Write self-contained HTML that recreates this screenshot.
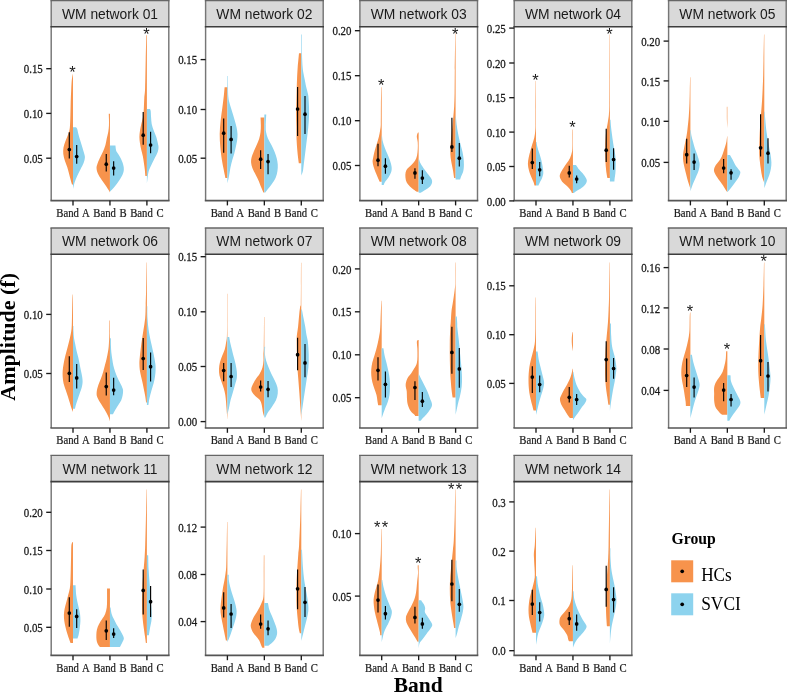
<!DOCTYPE html>
<html><head><meta charset="utf-8"><style>
html,body{margin:0;padding:0;background:#fff;width:787px;height:693px;overflow:hidden}
svg{display:block;will-change:transform;filter:blur(0.3px)}
.st{font-family:"Liberation Sans",sans-serif;font-size:13.85px;fill:#1a1a1a}
.tk{font-family:"Liberation Serif",serif;font-size:10.9px;fill:#1a1a1a;stroke:#1a1a1a;stroke-width:0.25px}
.xl{font-family:"Liberation Serif",serif;font-size:10.7px;word-spacing:1px;fill:#1a1a1a;stroke:#1a1a1a;stroke-width:0.2px}
.ttl{font-family:"Liberation Serif",serif;font-weight:bold;fill:#000}
.lg{font-family:"Liberation Serif",serif;fill:#000}
</style></head><body>
<svg width="787" height="693" viewBox="0 0 787 693">

<rect x="51.20" y="0.60" width="117.60" height="26.20" fill="#d9d9d9"/>
<path d="M73.00,184.50 L72.00,184.50 C71.78,183.75 71.20,181.85 70.70,180.00 C70.20,178.15 69.58,175.57 69.00,173.40 C68.42,171.23 67.90,169.17 67.20,167.00 C66.50,164.83 65.45,162.57 64.80,160.40 C64.15,158.23 63.52,156.15 63.30,154.00 C63.08,151.85 63.13,149.67 63.50,147.50 C63.87,145.33 64.73,143.17 65.50,141.00 C66.27,138.83 67.38,136.67 68.10,134.50 C68.82,132.33 69.42,131.25 69.80,128.00 C70.18,124.75 70.25,119.33 70.40,115.00 C70.55,110.67 70.57,106.17 70.70,102.00 C70.83,97.83 71.02,93.67 71.20,90.00 C71.38,86.33 71.50,82.75 71.80,80.00 C72.10,77.25 72.80,74.58 73.00,73.50 L73.00,73.50 Z" fill="#F7934C"/>
<path d="M73.00,189.00 L73.00,189.00 C73.27,187.92 73.90,184.67 74.60,182.50 C75.30,180.33 76.23,178.17 77.20,176.00 C78.17,173.83 79.33,171.67 80.40,169.50 C81.47,167.33 82.85,164.95 83.60,163.00 C84.35,161.05 84.78,159.30 84.90,157.80 C85.02,156.30 84.72,155.72 84.30,154.00 C83.88,152.28 83.05,149.67 82.40,147.50 C81.75,145.33 81.05,143.17 80.40,141.00 C79.75,138.83 79.03,136.50 78.50,134.50 C77.97,132.50 77.62,130.20 77.20,129.00 C76.78,127.80 76.20,127.58 76.00,127.30 L73.00,127.30 Z" fill="#8DD3EE"/>
<line x1="69.30" y1="132.20" x2="69.30" y2="158.50" stroke="#000" stroke-width="1.15"/>
<circle cx="69.30" cy="149.50" r="1.85" fill="#000"/>
<line x1="76.70" y1="145.00" x2="76.70" y2="163.70" stroke="#000" stroke-width="1.15"/>
<circle cx="76.70" cy="156.50" r="1.85" fill="#000"/>
<text x="72.50" y="78.40" text-anchor="middle" style="font-family:'Liberation Sans',sans-serif;font-size:16.5px;fill:#1a1a1a;letter-spacing:0px">*</text>
<path d="M109.95,192.40 L109.95,192.40 C109.35,191.42 107.72,188.57 106.35,186.50 C104.98,184.43 103.17,182.17 101.75,180.00 C100.33,177.83 98.72,175.45 97.85,173.50 C96.98,171.55 96.65,169.82 96.55,168.30 C96.45,166.78 96.70,166.12 97.25,164.40 C97.80,162.68 98.88,160.15 99.85,158.00 C100.82,155.85 102.12,153.67 103.05,151.50 C103.98,149.33 104.83,147.17 105.45,145.00 C106.07,142.83 106.28,140.67 106.75,138.50 C107.22,136.33 107.88,134.17 108.25,132.00 C108.62,129.83 108.83,127.67 108.95,125.50 C109.07,123.33 108.98,120.95 108.95,119.00 C108.92,117.05 108.78,114.67 108.75,113.80 L109.95,113.80 Z" fill="#F7934C"/>
<path d="M109.95,191.70 L109.95,191.70 C110.75,190.83 113.30,188.23 114.75,186.50 C116.20,184.77 117.35,183.25 118.65,181.30 C119.95,179.35 121.68,176.75 122.55,174.80 C123.42,172.85 123.75,171.33 123.85,169.60 C123.95,167.87 123.70,166.33 123.15,164.40 C122.60,162.47 121.52,159.93 120.55,158.00 C119.58,156.07 118.10,154.10 117.35,152.80 C116.60,151.50 116.37,151.40 116.05,150.20 C115.73,149.00 115.55,146.37 115.45,145.60 L109.95,145.60 Z" fill="#8DD3EE"/>
<line x1="106.25" y1="154.00" x2="106.25" y2="171.60" stroke="#000" stroke-width="1.15"/>
<circle cx="106.25" cy="164.20" r="1.85" fill="#000"/>
<line x1="113.65" y1="161.20" x2="113.65" y2="175.50" stroke="#000" stroke-width="1.15"/>
<circle cx="113.65" cy="168.10" r="1.85" fill="#000"/>
<path d="M146.90,176.00 L145.40,176.00 C145.30,174.90 145.05,171.57 144.80,169.40 C144.55,167.23 144.22,165.17 143.90,163.00 C143.58,160.83 143.33,158.57 142.90,156.40 C142.47,154.23 141.78,152.15 141.30,150.00 C140.82,147.85 140.32,145.67 140.00,143.50 C139.68,141.33 139.40,139.17 139.40,137.00 C139.40,134.83 139.68,132.67 140.00,130.50 C140.32,128.33 140.82,126.17 141.30,124.00 C141.78,121.83 142.50,119.67 142.90,117.50 C143.30,115.33 143.47,114.25 143.70,111.00 C143.93,107.75 144.07,101.83 144.30,98.00 C144.53,94.17 144.87,94.33 145.10,88.00 C145.33,81.67 145.50,68.80 145.70,60.00 C145.90,51.20 146.20,39.33 146.30,35.20 L146.90,35.20 Z" fill="#F7934C"/>
<path d="M146.90,183.70 L146.90,183.70 C147.17,181.75 147.80,175.03 148.50,172.00 C149.20,168.97 150.13,167.67 151.10,165.50 C152.07,163.33 153.23,161.17 154.30,159.00 C155.37,156.83 156.80,154.43 157.50,152.50 C158.20,150.57 158.43,148.90 158.50,147.40 C158.57,145.90 158.27,145.23 157.90,143.50 C157.53,141.77 157.00,139.17 156.30,137.00 C155.60,134.83 154.47,132.67 153.70,130.50 C152.93,128.33 152.13,126.17 151.70,124.00 C151.27,121.83 151.27,119.67 151.10,117.50 C150.93,115.33 150.90,112.42 150.70,111.00 C150.50,109.58 150.03,109.33 149.90,109.00 L146.90,109.00 Z" fill="#8DD3EE"/>
<line x1="143.20" y1="112.00" x2="143.20" y2="144.70" stroke="#000" stroke-width="1.15"/>
<circle cx="143.20" cy="135.20" r="1.85" fill="#000"/>
<line x1="150.60" y1="131.80" x2="150.60" y2="153.20" stroke="#000" stroke-width="1.15"/>
<circle cx="150.60" cy="145.00" r="1.85" fill="#000"/>
<text x="146.40" y="40.10" text-anchor="middle" style="font-family:'Liberation Sans',sans-serif;font-size:16.5px;fill:#1a1a1a;letter-spacing:0px">*</text>
<line x1="51.20" y1="26.80" x2="51.20" y2="200.60" stroke="#767676" stroke-width="1.45"/>
<line x1="168.80" y1="26.80" x2="168.80" y2="200.60" stroke="#767676" stroke-width="1.45"/>
<line x1="50.40" y1="200.60" x2="169.60" y2="200.60" stroke="#555" stroke-width="1.6"/>
<line x1="51.20" y1="0.60" x2="51.20" y2="26.80" stroke="#767676" stroke-width="1.45"/>
<line x1="168.80" y1="0.60" x2="168.80" y2="26.80" stroke="#767676" stroke-width="1.45"/>
<line x1="50.40" y1="0.60" x2="169.60" y2="0.60" stroke="#666" stroke-width="1.3"/>
<line x1="50.40" y1="26.80" x2="169.60" y2="26.80" stroke="#3d3d3d" stroke-width="1.6"/>
<text class="st" transform="translate(110.00,18.80) scale(1,1.09)" text-anchor="middle">WM network 01</text>
<line x1="46.20" y1="68.70" x2="51.20" y2="68.70" stroke="#1a1a1a" stroke-width="1.35"/>
<text class="tk" transform="translate(42.80,73.30) scale(1,1.14)" text-anchor="end">0.15</text>
<line x1="46.20" y1="113.40" x2="51.20" y2="113.40" stroke="#1a1a1a" stroke-width="1.35"/>
<text class="tk" transform="translate(42.80,118.00) scale(1,1.14)" text-anchor="end">0.10</text>
<line x1="46.20" y1="158.20" x2="51.20" y2="158.20" stroke="#1a1a1a" stroke-width="1.35"/>
<text class="tk" transform="translate(42.80,162.80) scale(1,1.14)" text-anchor="end">0.05</text>
<line x1="73.00" y1="200.60" x2="73.00" y2="205.40" stroke="#1a1a1a" stroke-width="1.35"/>
<text class="xl" transform="translate(73.00,216.80) scale(1,1.12)" text-anchor="middle">Band A</text>
<line x1="109.95" y1="200.60" x2="109.95" y2="205.40" stroke="#1a1a1a" stroke-width="1.35"/>
<text class="xl" transform="translate(109.95,216.80) scale(1,1.12)" text-anchor="middle">Band B</text>
<line x1="146.90" y1="200.60" x2="146.90" y2="205.40" stroke="#1a1a1a" stroke-width="1.35"/>
<text class="xl" transform="translate(146.90,216.80) scale(1,1.12)" text-anchor="middle">Band C</text>
<rect x="205.60" y="0.60" width="117.60" height="26.20" fill="#d9d9d9"/>
<path d="M227.40,178.10 L225.40,178.10 C225.32,177.67 225.20,177.02 224.90,175.50 C224.60,173.98 224.10,171.58 223.60,169.00 C223.10,166.42 222.45,163.67 221.90,160.00 C221.35,156.33 220.67,151.33 220.30,147.00 C219.93,142.67 219.65,138.33 219.70,134.00 C219.75,129.67 220.17,125.33 220.60,121.00 C221.03,116.67 221.75,112.33 222.30,108.00 C222.85,103.67 223.52,98.45 223.90,95.00 C224.28,91.55 224.48,88.58 224.60,87.30 L227.40,87.30 Z" fill="#F7934C"/>
<path d="M227.40,183.30 L227.40,183.30 C227.68,182.00 228.60,178.10 229.10,175.50 C229.60,172.90 229.87,170.28 230.40,167.70 C230.93,165.12 231.65,162.38 232.30,160.00 C232.95,157.62 233.72,155.57 234.30,153.40 C234.88,151.23 235.33,149.15 235.80,147.00 C236.27,144.85 236.82,142.67 237.10,140.50 C237.38,138.33 237.58,136.17 237.50,134.00 C237.42,131.83 237.03,129.67 236.60,127.50 C236.17,125.33 235.50,123.17 234.90,121.00 C234.30,118.83 233.65,116.67 233.00,114.50 C232.35,112.33 231.65,110.17 231.00,108.00 C230.35,105.83 229.57,103.67 229.10,101.50 C228.63,99.33 228.38,97.75 228.20,95.00 C228.02,92.25 228.05,88.17 228.00,85.00 C227.95,81.83 227.92,77.50 227.90,76.00 L227.40,76.00 Z" fill="#8DD3EE"/>
<line x1="223.70" y1="118.40" x2="223.70" y2="152.70" stroke="#000" stroke-width="1.15"/>
<circle cx="223.70" cy="133.20" r="1.85" fill="#000"/>
<line x1="231.10" y1="125.90" x2="231.10" y2="153.60" stroke="#000" stroke-width="1.15"/>
<circle cx="231.10" cy="139.40" r="1.85" fill="#000"/>
<path d="M264.35,192.40 L263.35,192.40 C262.93,191.42 261.60,188.35 260.85,186.50 C260.10,184.65 259.72,183.25 258.85,181.30 C257.98,179.35 256.72,176.97 255.65,174.80 C254.58,172.63 253.20,170.25 252.45,168.30 C251.70,166.35 251.32,164.82 251.15,163.10 C250.98,161.38 251.02,159.93 251.45,158.00 C251.88,156.07 252.88,153.67 253.75,151.50 C254.62,149.33 255.73,147.17 256.65,145.00 C257.57,142.83 258.60,140.67 259.25,138.50 C259.90,136.33 260.28,134.17 260.55,132.00 C260.82,129.83 260.85,127.93 260.85,125.50 C260.85,123.07 260.60,118.75 260.55,117.40 L264.35,117.40 Z" fill="#F7934C"/>
<path d="M264.35,192.40 L265.35,192.40 C265.78,191.85 266.87,190.50 267.95,189.10 C269.03,187.70 270.55,185.95 271.85,184.00 C273.15,182.05 274.82,179.57 275.75,177.40 C276.68,175.23 277.12,173.17 277.45,171.00 C277.78,168.83 277.88,166.57 277.75,164.40 C277.62,162.23 277.20,160.15 276.65,158.00 C276.10,155.85 275.32,153.67 274.45,151.50 C273.58,149.33 272.53,147.17 271.45,145.00 C270.37,142.83 268.85,140.67 267.95,138.50 C267.05,136.33 266.42,134.17 266.05,132.00 C265.68,129.83 265.72,128.43 265.75,125.50 C265.78,122.57 266.17,116.25 266.25,114.40 L264.35,114.40 Z" fill="#8DD3EE"/>
<line x1="260.65" y1="150.20" x2="260.65" y2="169.00" stroke="#000" stroke-width="1.15"/>
<circle cx="260.65" cy="159.20" r="1.85" fill="#000"/>
<line x1="268.05" y1="154.00" x2="268.05" y2="174.20" stroke="#000" stroke-width="1.15"/>
<circle cx="268.05" cy="161.60" r="1.85" fill="#000"/>
<path d="M301.30,163.30 L298.80,163.30 C298.68,162.43 298.35,160.27 298.10,158.10 C297.85,155.93 297.55,153.32 297.30,150.30 C297.05,147.28 296.75,143.88 296.60,140.00 C296.45,136.12 296.48,131.33 296.40,127.00 C296.32,122.67 296.10,118.33 296.10,114.00 C296.10,109.67 296.32,104.50 296.40,101.00 C296.48,97.50 296.50,96.50 296.60,93.00 C296.70,89.50 296.82,84.33 297.00,80.00 C297.18,75.67 297.48,70.25 297.70,67.00 C297.92,63.75 298.08,62.78 298.30,60.50 C298.52,58.22 298.88,54.50 299.00,53.30 L301.30,53.30 Z" fill="#F7934C"/>
<path d="M301.30,175.70 L301.30,175.70 C301.57,174.93 302.47,173.17 302.90,171.10 C303.33,169.03 303.52,166.32 303.90,163.30 C304.28,160.28 304.72,156.88 305.20,153.00 C305.68,149.12 306.28,144.33 306.80,140.00 C307.32,135.67 307.92,131.33 308.30,127.00 C308.68,122.67 309.03,118.33 309.10,114.00 C309.17,109.67 308.87,104.25 308.70,101.00 C308.53,97.75 308.53,96.93 308.10,94.50 C307.67,92.07 306.65,88.82 306.10,86.40 C305.55,83.98 305.23,82.15 304.80,80.00 C304.37,77.85 303.87,75.67 303.50,73.50 C303.13,71.33 302.85,70.25 302.60,67.00 C302.35,63.75 302.12,59.42 302.00,54.00 C301.88,48.58 301.92,37.75 301.90,34.50 L301.30,34.50 Z" fill="#8DD3EE"/>
<line x1="297.60" y1="87.10" x2="297.60" y2="136.10" stroke="#000" stroke-width="1.15"/>
<circle cx="297.60" cy="109.00" r="1.85" fill="#000"/>
<line x1="305.00" y1="96.10" x2="305.00" y2="134.10" stroke="#000" stroke-width="1.15"/>
<circle cx="305.00" cy="114.20" r="1.85" fill="#000"/>
<line x1="205.60" y1="26.80" x2="205.60" y2="200.60" stroke="#767676" stroke-width="1.45"/>
<line x1="323.20" y1="26.80" x2="323.20" y2="200.60" stroke="#767676" stroke-width="1.45"/>
<line x1="204.80" y1="200.60" x2="324.00" y2="200.60" stroke="#555" stroke-width="1.6"/>
<line x1="205.60" y1="0.60" x2="205.60" y2="26.80" stroke="#767676" stroke-width="1.45"/>
<line x1="323.20" y1="0.60" x2="323.20" y2="26.80" stroke="#767676" stroke-width="1.45"/>
<line x1="204.80" y1="0.60" x2="324.00" y2="0.60" stroke="#666" stroke-width="1.3"/>
<line x1="204.80" y1="26.80" x2="324.00" y2="26.80" stroke="#3d3d3d" stroke-width="1.6"/>
<text class="st" transform="translate(264.40,18.80) scale(1,1.09)" text-anchor="middle">WM network 02</text>
<line x1="200.60" y1="59.60" x2="205.60" y2="59.60" stroke="#1a1a1a" stroke-width="1.35"/>
<text class="tk" transform="translate(197.20,64.20) scale(1,1.14)" text-anchor="end">0.15</text>
<line x1="200.60" y1="109.50" x2="205.60" y2="109.50" stroke="#1a1a1a" stroke-width="1.35"/>
<text class="tk" transform="translate(197.20,114.10) scale(1,1.14)" text-anchor="end">0.10</text>
<line x1="200.60" y1="158.20" x2="205.60" y2="158.20" stroke="#1a1a1a" stroke-width="1.35"/>
<text class="tk" transform="translate(197.20,162.80) scale(1,1.14)" text-anchor="end">0.05</text>
<line x1="227.40" y1="200.60" x2="227.40" y2="205.40" stroke="#1a1a1a" stroke-width="1.35"/>
<text class="xl" transform="translate(227.40,216.80) scale(1,1.12)" text-anchor="middle">Band A</text>
<line x1="264.35" y1="200.60" x2="264.35" y2="205.40" stroke="#1a1a1a" stroke-width="1.35"/>
<text class="xl" transform="translate(264.35,216.80) scale(1,1.12)" text-anchor="middle">Band B</text>
<line x1="301.30" y1="200.60" x2="301.30" y2="205.40" stroke="#1a1a1a" stroke-width="1.35"/>
<text class="xl" transform="translate(301.30,216.80) scale(1,1.12)" text-anchor="middle">Band C</text>
<rect x="359.90" y="0.60" width="117.60" height="26.20" fill="#d9d9d9"/>
<path d="M381.70,181.80 L379.70,181.80 C379.45,181.25 378.82,179.92 378.20,178.50 C377.58,177.08 376.77,175.25 376.00,173.30 C375.23,171.35 374.17,168.75 373.60,166.80 C373.03,164.85 372.63,163.33 372.60,161.60 C372.57,159.87 373.02,158.33 373.40,156.40 C373.78,154.47 374.32,152.15 374.90,150.00 C375.48,147.85 376.25,145.67 376.90,143.50 C377.55,141.33 378.27,139.17 378.80,137.00 C379.33,134.83 379.77,132.67 380.10,130.50 C380.43,128.33 380.67,128.25 380.80,124.00 C380.93,119.75 380.82,111.12 380.90,105.00 C380.98,98.88 381.23,90.25 381.30,87.30 L381.70,87.30 Z" fill="#F7934C"/>
<path d="M381.70,185.00 L383.70,185.00 C383.87,184.57 383.88,183.70 384.70,182.40 C385.52,181.10 387.52,178.93 388.60,177.20 C389.68,175.47 390.70,173.73 391.20,172.00 C391.70,170.27 391.82,168.75 391.60,166.80 C391.38,164.85 390.62,162.47 389.90,160.30 C389.18,158.13 388.17,155.95 387.30,153.80 C386.43,151.65 385.47,149.55 384.70,147.40 C383.93,145.25 383.15,142.85 382.70,140.90 C382.25,138.95 382.12,136.57 382.00,135.70 L381.70,135.70 Z" fill="#8DD3EE"/>
<line x1="378.00" y1="143.80" x2="378.00" y2="166.20" stroke="#000" stroke-width="1.15"/>
<circle cx="378.00" cy="160.20" r="1.85" fill="#000"/>
<line x1="385.40" y1="158.30" x2="385.40" y2="173.80" stroke="#000" stroke-width="1.15"/>
<circle cx="385.40" cy="166.20" r="1.85" fill="#000"/>
<text x="381.20" y="90.70" text-anchor="middle" style="font-family:'Liberation Sans',sans-serif;font-size:16.5px;fill:#1a1a1a;letter-spacing:0px">*</text>
<path d="M418.65,191.70 L416.65,191.70 C416.18,191.38 414.97,190.67 413.85,189.80 C412.73,188.93 411.13,187.70 409.95,186.50 C408.77,185.30 407.50,184.12 406.75,182.60 C406.00,181.08 405.63,179.13 405.45,177.40 C405.27,175.67 405.27,173.72 405.65,172.20 C406.03,170.68 406.72,169.60 407.75,168.30 C408.78,167.00 410.62,165.70 411.85,164.40 C413.08,163.10 414.28,162.00 415.15,160.50 C416.02,159.00 416.62,157.33 417.05,155.40 C417.48,153.47 417.63,151.07 417.75,148.90 C417.87,146.73 417.90,144.35 417.75,142.40 C417.60,140.45 416.95,138.52 416.85,137.20 C416.75,135.88 416.95,135.27 417.15,134.50 C417.35,133.73 417.90,132.92 418.05,132.60 L418.65,132.60 Z" fill="#F7934C"/>
<path d="M418.65,192.80 L420.65,192.80 C421.47,192.30 423.98,190.85 425.55,189.80 C427.12,188.75 428.97,187.70 430.05,186.50 C431.13,185.30 431.83,183.90 432.05,182.60 C432.27,181.30 432.12,180.22 431.35,178.70 C430.58,177.18 428.75,175.23 427.45,173.50 C426.15,171.77 424.73,170.03 423.55,168.30 C422.37,166.57 421.10,164.62 420.35,163.10 C419.60,161.58 419.27,159.85 419.05,159.20 L418.65,159.20 Z" fill="#8DD3EE"/>
<line x1="414.95" y1="168.30" x2="414.95" y2="178.70" stroke="#000" stroke-width="1.15"/>
<circle cx="414.95" cy="172.90" r="1.85" fill="#000"/>
<line x1="422.35" y1="170.30" x2="422.35" y2="183.90" stroke="#000" stroke-width="1.15"/>
<circle cx="422.35" cy="178.10" r="1.85" fill="#000"/>
<path d="M455.60,178.00 L454.10,178.00 C453.93,176.83 453.48,173.27 453.10,171.00 C452.72,168.73 452.20,166.57 451.80,164.40 C451.40,162.23 450.95,160.17 450.70,158.00 C450.45,155.83 450.33,153.57 450.30,151.40 C450.27,149.23 450.25,148.23 450.50,145.00 C450.75,141.77 451.37,136.33 451.80,132.00 C452.23,127.67 452.70,123.33 453.10,119.00 C453.50,114.67 453.95,110.33 454.20,106.00 C454.45,101.67 454.50,99.00 454.60,93.00 C454.70,87.00 454.68,79.95 454.80,70.00 C454.92,60.05 455.22,39.42 455.30,33.30 L455.60,33.30 Z" fill="#F7934C"/>
<path d="M455.60,179.40 L460.10,179.40 C460.30,178.85 460.77,177.50 461.30,176.10 C461.83,174.70 462.87,172.95 463.30,171.00 C463.73,169.05 463.87,166.57 463.90,164.40 C463.93,162.23 463.75,160.17 463.50,158.00 C463.25,155.83 462.87,153.57 462.40,151.40 C461.93,149.23 461.25,147.15 460.70,145.00 C460.15,142.85 459.58,140.67 459.10,138.50 C458.62,136.33 458.18,134.17 457.80,132.00 C457.42,129.83 457.12,128.10 456.80,125.50 C456.48,122.90 456.05,117.92 455.90,116.40 L455.60,116.40 Z" fill="#8DD3EE"/>
<line x1="451.90" y1="117.70" x2="451.90" y2="152.10" stroke="#000" stroke-width="1.15"/>
<circle cx="451.90" cy="146.90" r="1.85" fill="#000"/>
<line x1="459.30" y1="143.00" x2="459.30" y2="166.40" stroke="#000" stroke-width="1.15"/>
<circle cx="459.30" cy="158.20" r="1.85" fill="#000"/>
<text x="455.10" y="39.50" text-anchor="middle" style="font-family:'Liberation Sans',sans-serif;font-size:16.5px;fill:#1a1a1a;letter-spacing:0px">*</text>
<line x1="359.90" y1="26.80" x2="359.90" y2="200.60" stroke="#767676" stroke-width="1.45"/>
<line x1="477.50" y1="26.80" x2="477.50" y2="200.60" stroke="#767676" stroke-width="1.45"/>
<line x1="359.10" y1="200.60" x2="478.30" y2="200.60" stroke="#555" stroke-width="1.6"/>
<line x1="359.90" y1="0.60" x2="359.90" y2="26.80" stroke="#767676" stroke-width="1.45"/>
<line x1="477.50" y1="0.60" x2="477.50" y2="26.80" stroke="#767676" stroke-width="1.45"/>
<line x1="359.10" y1="0.60" x2="478.30" y2="0.60" stroke="#666" stroke-width="1.3"/>
<line x1="359.10" y1="26.80" x2="478.30" y2="26.80" stroke="#3d3d3d" stroke-width="1.6"/>
<text class="st" transform="translate(418.70,18.80) scale(1,1.09)" text-anchor="middle">WM network 03</text>
<line x1="354.90" y1="30.70" x2="359.90" y2="30.70" stroke="#1a1a1a" stroke-width="1.35"/>
<text class="tk" transform="translate(351.50,35.30) scale(1,1.14)" text-anchor="end">0.20</text>
<line x1="354.90" y1="75.70" x2="359.90" y2="75.70" stroke="#1a1a1a" stroke-width="1.35"/>
<text class="tk" transform="translate(351.50,80.30) scale(1,1.14)" text-anchor="end">0.15</text>
<line x1="354.90" y1="120.70" x2="359.90" y2="120.70" stroke="#1a1a1a" stroke-width="1.35"/>
<text class="tk" transform="translate(351.50,125.30) scale(1,1.14)" text-anchor="end">0.10</text>
<line x1="354.90" y1="165.50" x2="359.90" y2="165.50" stroke="#1a1a1a" stroke-width="1.35"/>
<text class="tk" transform="translate(351.50,170.10) scale(1,1.14)" text-anchor="end">0.05</text>
<line x1="381.70" y1="200.60" x2="381.70" y2="205.40" stroke="#1a1a1a" stroke-width="1.35"/>
<text class="xl" transform="translate(381.70,216.80) scale(1,1.12)" text-anchor="middle">Band A</text>
<line x1="418.65" y1="200.60" x2="418.65" y2="205.40" stroke="#1a1a1a" stroke-width="1.35"/>
<text class="xl" transform="translate(418.65,216.80) scale(1,1.12)" text-anchor="middle">Band B</text>
<line x1="455.60" y1="200.60" x2="455.60" y2="205.40" stroke="#1a1a1a" stroke-width="1.35"/>
<text class="xl" transform="translate(455.60,216.80) scale(1,1.12)" text-anchor="middle">Band C</text>
<rect x="514.20" y="0.60" width="117.60" height="26.20" fill="#d9d9d9"/>
<path d="M536.00,185.40 L534.50,185.40 C534.33,184.83 534.03,183.40 533.50,182.00 C532.97,180.60 532.05,178.93 531.30,177.00 C530.55,175.07 529.57,172.57 529.00,170.40 C528.43,168.23 527.95,166.17 527.90,164.00 C527.85,161.83 528.30,159.57 528.70,157.40 C529.10,155.23 529.72,153.15 530.30,151.00 C530.88,148.85 531.55,146.67 532.20,144.50 C532.85,142.33 533.70,140.17 534.20,138.00 C534.70,135.83 534.98,133.67 535.20,131.50 C535.42,129.33 535.45,128.58 535.50,125.00 C535.55,121.42 535.47,117.33 535.50,110.00 C535.53,102.67 535.67,85.83 535.70,81.00 L536.00,81.00 Z" fill="#F7934C"/>
<path d="M536.00,185.40 L538.50,185.40 C538.75,184.83 539.42,183.20 540.00,182.00 C540.58,180.80 541.45,179.70 542.00,178.20 C542.55,176.70 543.20,174.95 543.30,173.00 C543.40,171.05 542.93,168.67 542.60,166.50 C542.27,164.33 541.83,162.17 541.30,160.00 C540.77,157.83 540.05,155.67 539.40,153.50 C538.75,151.33 537.88,148.93 537.40,147.00 C536.92,145.07 536.65,142.75 536.50,141.90 L536.00,141.90 Z" fill="#8DD3EE"/>
<line x1="532.30" y1="148.40" x2="532.30" y2="169.10" stroke="#000" stroke-width="1.15"/>
<circle cx="532.30" cy="162.60" r="1.85" fill="#000"/>
<line x1="539.70" y1="162.00" x2="539.70" y2="176.30" stroke="#000" stroke-width="1.15"/>
<circle cx="539.70" cy="169.80" r="1.85" fill="#000"/>
<text x="535.50" y="85.90" text-anchor="middle" style="font-family:'Liberation Sans',sans-serif;font-size:16.5px;fill:#1a1a1a;letter-spacing:0px">*</text>
<path d="M572.95,193.00 L571.95,193.00 C571.75,192.57 571.50,191.48 570.75,190.40 C570.00,189.32 568.75,187.80 567.45,186.50 C566.15,185.20 564.20,184.12 562.95,182.60 C561.70,181.08 560.38,178.92 559.95,177.40 C559.52,175.88 559.78,175.02 560.35,173.50 C560.92,171.98 562.27,170.03 563.35,168.30 C564.43,166.57 565.73,164.82 566.85,163.10 C567.97,161.38 569.18,159.93 570.05,158.00 C570.92,156.07 571.65,153.67 572.05,151.50 C572.45,149.33 572.38,147.75 572.45,145.00 C572.52,142.25 572.43,137.60 572.45,135.00 C572.47,132.40 572.53,130.33 572.55,129.40 L572.95,129.40 Z" fill="#F7934C"/>
<path d="M572.95,193.00 L573.95,193.00 C574.38,192.68 575.25,191.97 576.55,191.10 C577.85,190.23 580.23,189.00 581.75,187.80 C583.27,186.60 584.82,185.20 585.65,183.90 C586.48,182.60 587.07,181.52 586.75,180.00 C586.43,178.48 585.02,176.53 583.75,174.80 C582.48,173.07 580.28,170.98 579.15,169.60 C578.02,168.22 577.48,167.25 576.95,166.50 C576.42,165.75 576.12,165.33 575.95,165.10 L572.95,165.10 Z" fill="#8DD3EE"/>
<line x1="569.25" y1="165.70" x2="569.25" y2="177.40" stroke="#000" stroke-width="1.15"/>
<circle cx="569.25" cy="172.90" r="1.85" fill="#000"/>
<line x1="576.65" y1="175.50" x2="576.65" y2="183.30" stroke="#000" stroke-width="1.15"/>
<circle cx="576.65" cy="179.00" r="1.85" fill="#000"/>
<text x="572.45" y="132.90" text-anchor="middle" style="font-family:'Liberation Sans',sans-serif;font-size:16.5px;fill:#1a1a1a;letter-spacing:0px">*</text>
<path d="M609.90,178.10 L607.40,178.10 C607.25,177.25 606.75,174.73 606.50,173.00 C606.25,171.27 606.08,169.87 605.90,167.70 C605.72,165.53 605.52,163.45 605.40,160.00 C605.28,156.55 605.12,151.33 605.20,147.00 C605.28,142.67 605.62,137.25 605.90,134.00 C606.18,130.75 606.55,129.67 606.90,127.50 C607.25,125.33 607.67,123.17 608.00,121.00 C608.33,118.83 608.68,117.17 608.90,114.50 C609.12,111.83 609.22,110.75 609.30,105.00 C609.38,99.25 609.35,91.75 609.40,80.00 C609.45,68.25 609.57,42.08 609.60,34.50 L609.90,34.50 Z" fill="#F7934C"/>
<path d="M609.90,181.40 L614.40,181.40 C614.45,180.85 614.53,179.50 614.70,178.10 C614.87,176.70 615.23,174.95 615.40,173.00 C615.57,171.05 615.65,168.57 615.70,166.40 C615.75,164.23 615.82,162.17 615.70,160.00 C615.58,157.83 615.32,155.57 615.00,153.40 C614.68,151.23 614.17,149.15 613.80,147.00 C613.43,144.85 613.12,142.67 612.80,140.50 C612.48,138.33 612.18,136.17 611.90,134.00 C611.62,131.83 611.33,129.88 611.10,127.50 C610.87,125.12 610.60,121.00 610.50,119.70 L609.90,119.70 Z" fill="#8DD3EE"/>
<line x1="606.20" y1="128.80" x2="606.20" y2="161.90" stroke="#000" stroke-width="1.15"/>
<circle cx="606.20" cy="150.20" r="1.85" fill="#000"/>
<line x1="613.60" y1="148.20" x2="613.60" y2="169.70" stroke="#000" stroke-width="1.15"/>
<circle cx="613.60" cy="159.50" r="1.85" fill="#000"/>
<text x="609.40" y="39.50" text-anchor="middle" style="font-family:'Liberation Sans',sans-serif;font-size:16.5px;fill:#1a1a1a;letter-spacing:0px">*</text>
<line x1="514.20" y1="26.80" x2="514.20" y2="200.60" stroke="#767676" stroke-width="1.45"/>
<line x1="631.80" y1="26.80" x2="631.80" y2="200.60" stroke="#767676" stroke-width="1.45"/>
<line x1="513.40" y1="200.60" x2="632.60" y2="200.60" stroke="#555" stroke-width="1.6"/>
<line x1="514.20" y1="0.60" x2="514.20" y2="26.80" stroke="#767676" stroke-width="1.45"/>
<line x1="631.80" y1="0.60" x2="631.80" y2="26.80" stroke="#767676" stroke-width="1.45"/>
<line x1="513.40" y1="0.60" x2="632.60" y2="0.60" stroke="#666" stroke-width="1.3"/>
<line x1="513.40" y1="26.80" x2="632.60" y2="26.80" stroke="#3d3d3d" stroke-width="1.6"/>
<text class="st" transform="translate(573.00,18.80) scale(1,1.09)" text-anchor="middle">WM network 04</text>
<line x1="509.20" y1="28.10" x2="514.20" y2="28.10" stroke="#1a1a1a" stroke-width="1.35"/>
<text class="tk" transform="translate(505.80,32.70) scale(1,1.14)" text-anchor="end">0.25</text>
<line x1="509.20" y1="63.00" x2="514.20" y2="63.00" stroke="#1a1a1a" stroke-width="1.35"/>
<text class="tk" transform="translate(505.80,67.60) scale(1,1.14)" text-anchor="end">0.20</text>
<line x1="509.20" y1="97.70" x2="514.20" y2="97.70" stroke="#1a1a1a" stroke-width="1.35"/>
<text class="tk" transform="translate(505.80,102.30) scale(1,1.14)" text-anchor="end">0.15</text>
<line x1="509.20" y1="132.10" x2="514.20" y2="132.10" stroke="#1a1a1a" stroke-width="1.35"/>
<text class="tk" transform="translate(505.80,136.70) scale(1,1.14)" text-anchor="end">0.10</text>
<line x1="509.20" y1="166.50" x2="514.20" y2="166.50" stroke="#1a1a1a" stroke-width="1.35"/>
<text class="tk" transform="translate(505.80,171.10) scale(1,1.14)" text-anchor="end">0.05</text>
<line x1="509.20" y1="200.90" x2="514.20" y2="200.90" stroke="#1a1a1a" stroke-width="1.35"/>
<text class="tk" transform="translate(505.80,205.50) scale(1,1.14)" text-anchor="end">0.00</text>
<line x1="536.00" y1="200.60" x2="536.00" y2="205.40" stroke="#1a1a1a" stroke-width="1.35"/>
<text class="xl" transform="translate(536.00,216.80) scale(1,1.12)" text-anchor="middle">Band A</text>
<line x1="572.95" y1="200.60" x2="572.95" y2="205.40" stroke="#1a1a1a" stroke-width="1.35"/>
<text class="xl" transform="translate(572.95,216.80) scale(1,1.12)" text-anchor="middle">Band B</text>
<line x1="609.90" y1="200.60" x2="609.90" y2="205.40" stroke="#1a1a1a" stroke-width="1.35"/>
<text class="xl" transform="translate(609.90,216.80) scale(1,1.12)" text-anchor="middle">Band C</text>
<rect x="668.60" y="0.60" width="117.60" height="26.20" fill="#d9d9d9"/>
<path d="M690.40,188.70 L690.40,188.70 C689.98,187.42 688.60,183.38 687.90,181.00 C687.20,178.62 686.75,176.57 686.20,174.40 C685.65,172.23 685.08,170.17 684.60,168.00 C684.12,165.83 683.57,163.57 683.30,161.40 C683.03,159.23 682.88,157.15 683.00,155.00 C683.12,152.85 683.62,150.67 684.00,148.50 C684.38,146.33 684.87,144.17 685.30,142.00 C685.73,139.83 686.23,137.67 686.60,135.50 C686.97,133.33 687.13,132.25 687.50,129.00 C687.87,125.75 688.47,120.33 688.80,116.00 C689.13,111.67 689.33,107.33 689.50,103.00 C689.67,98.67 689.70,94.30 689.80,90.00 C689.90,85.70 690.05,79.33 690.10,77.20 L690.40,77.20 Z" fill="#F7934C"/>
<path d="M690.40,191.30 L690.40,191.30 C690.85,190.00 692.17,185.88 693.10,183.50 C694.03,181.12 695.08,179.17 696.00,177.00 C696.92,174.83 698.00,172.45 698.60,170.50 C699.20,168.55 699.50,166.82 699.60,165.30 C699.70,163.78 699.58,163.12 699.20,161.40 C698.82,159.68 698.02,157.15 697.30,155.00 C696.58,152.85 695.60,150.67 694.90,148.50 C694.20,146.33 693.68,144.17 693.10,142.00 C692.52,139.83 691.78,137.45 691.40,135.50 C691.02,133.55 690.90,131.17 690.80,130.30 L690.40,130.30 Z" fill="#8DD3EE"/>
<line x1="686.70" y1="138.70" x2="686.70" y2="163.40" stroke="#000" stroke-width="1.15"/>
<circle cx="686.70" cy="154.70" r="1.85" fill="#000"/>
<line x1="694.10" y1="153.60" x2="694.10" y2="169.90" stroke="#000" stroke-width="1.15"/>
<circle cx="694.10" cy="162.10" r="1.85" fill="#000"/>
<path d="M727.35,192.00 L727.35,192.00 C727.03,191.57 726.32,190.70 725.45,189.40 C724.58,188.10 723.35,185.93 722.15,184.20 C720.95,182.47 719.43,180.73 718.25,179.00 C717.07,177.27 715.77,175.30 715.05,173.80 C714.33,172.30 713.92,171.30 713.95,170.00 C713.98,168.70 714.53,167.32 715.25,166.00 C715.97,164.68 717.20,163.60 718.25,162.10 C719.30,160.60 720.68,158.72 721.55,157.00 C722.42,155.28 722.85,153.53 723.45,151.80 C724.05,150.07 724.65,148.33 725.15,146.60 C725.65,144.87 726.12,143.13 726.45,141.40 C726.78,139.67 727.03,137.07 727.15,136.20 L727.35,136.20 Z" fill="#F7934C"/>
<path d="M727.35,128.00 L727.35,128.00 C727.27,126.67 726.98,123.00 726.90,120.00 C726.82,117.00 726.86,112.20 726.85,110.00 C726.84,107.80 726.85,107.33 726.85,106.80 L727.35,106.80 Z" fill="#F7934C"/>
<path d="M727.35,192.00 L727.35,192.00 C727.57,191.78 727.90,191.57 728.65,190.70 C729.40,189.83 730.67,188.32 731.85,186.80 C733.03,185.28 734.55,183.33 735.75,181.60 C736.95,179.87 738.28,177.92 739.05,176.40 C739.82,174.88 740.35,173.57 740.35,172.50 C740.35,171.43 739.92,171.30 739.05,170.00 C738.18,168.70 736.23,166.45 735.15,164.70 C734.07,162.95 733.42,161.12 732.55,159.50 C731.68,157.88 730.38,155.75 729.95,155.00 L727.35,155.00 Z" fill="#8DD3EE"/>
<line x1="723.65" y1="158.90" x2="723.65" y2="173.20" stroke="#000" stroke-width="1.15"/>
<circle cx="723.65" cy="168.00" r="1.85" fill="#000"/>
<line x1="731.05" y1="169.30" x2="731.05" y2="179.70" stroke="#000" stroke-width="1.15"/>
<circle cx="731.05" cy="172.80" r="1.85" fill="#000"/>
<path d="M764.30,183.10 L764.30,183.10 C763.93,182.02 762.68,178.98 762.10,176.60 C761.52,174.22 761.18,171.40 760.80,168.80 C760.42,166.20 760.07,163.80 759.80,161.00 C759.53,158.20 759.25,155.67 759.20,152.00 C759.15,148.33 759.35,143.33 759.50,139.00 C759.65,134.67 759.83,130.33 760.10,126.00 C760.37,121.67 760.77,117.33 761.10,113.00 C761.43,108.67 761.83,104.17 762.10,100.00 C762.37,95.83 762.52,92.17 762.70,88.00 C762.88,83.83 763.07,79.67 763.20,75.00 C763.33,70.33 763.37,66.75 763.50,60.00 C763.63,53.25 763.92,38.75 764.00,34.50 L764.30,34.50 Z" fill="#F7934C"/>
<path d="M764.30,188.30 L764.30,188.30 C764.68,187.22 765.78,183.97 766.60,181.80 C767.42,179.63 768.48,177.47 769.20,175.30 C769.92,173.13 770.53,170.97 770.90,168.80 C771.27,166.63 771.47,164.68 771.40,162.30 C771.33,159.92 770.93,157.30 770.50,154.50 C770.07,151.70 769.45,149.17 768.80,145.50 C768.15,141.83 767.18,136.83 766.60,132.50 C766.02,128.17 765.62,122.97 765.30,119.50 C764.98,116.03 764.80,113.00 764.70,111.70 L764.30,111.70 Z" fill="#8DD3EE"/>
<line x1="760.60" y1="114.30" x2="760.60" y2="156.50" stroke="#000" stroke-width="1.15"/>
<circle cx="760.60" cy="147.80" r="1.85" fill="#000"/>
<line x1="768.00" y1="138.30" x2="768.00" y2="163.60" stroke="#000" stroke-width="1.15"/>
<circle cx="768.00" cy="153.20" r="1.85" fill="#000"/>
<line x1="668.60" y1="26.80" x2="668.60" y2="200.60" stroke="#767676" stroke-width="1.45"/>
<line x1="786.20" y1="26.80" x2="786.20" y2="200.60" stroke="#767676" stroke-width="1.45"/>
<line x1="667.80" y1="200.60" x2="787.00" y2="200.60" stroke="#555" stroke-width="1.6"/>
<line x1="668.60" y1="0.60" x2="668.60" y2="26.80" stroke="#767676" stroke-width="1.45"/>
<line x1="786.20" y1="0.60" x2="786.20" y2="26.80" stroke="#767676" stroke-width="1.45"/>
<line x1="667.80" y1="0.60" x2="787.00" y2="0.60" stroke="#666" stroke-width="1.3"/>
<line x1="667.80" y1="26.80" x2="787.00" y2="26.80" stroke="#3d3d3d" stroke-width="1.6"/>
<text class="st" transform="translate(727.40,18.80) scale(1,1.09)" text-anchor="middle">WM network 05</text>
<line x1="663.60" y1="41.10" x2="668.60" y2="41.10" stroke="#1a1a1a" stroke-width="1.35"/>
<text class="tk" transform="translate(660.20,45.70) scale(1,1.14)" text-anchor="end">0.20</text>
<line x1="663.60" y1="80.90" x2="668.60" y2="80.90" stroke="#1a1a1a" stroke-width="1.35"/>
<text class="tk" transform="translate(660.20,85.50) scale(1,1.14)" text-anchor="end">0.15</text>
<line x1="663.60" y1="121.30" x2="668.60" y2="121.30" stroke="#1a1a1a" stroke-width="1.35"/>
<text class="tk" transform="translate(660.20,125.90) scale(1,1.14)" text-anchor="end">0.10</text>
<line x1="663.60" y1="162.40" x2="668.60" y2="162.40" stroke="#1a1a1a" stroke-width="1.35"/>
<text class="tk" transform="translate(660.20,167.00) scale(1,1.14)" text-anchor="end">0.05</text>
<line x1="690.40" y1="200.60" x2="690.40" y2="205.40" stroke="#1a1a1a" stroke-width="1.35"/>
<text class="xl" transform="translate(690.40,216.80) scale(1,1.12)" text-anchor="middle">Band A</text>
<line x1="727.35" y1="200.60" x2="727.35" y2="205.40" stroke="#1a1a1a" stroke-width="1.35"/>
<text class="xl" transform="translate(727.35,216.80) scale(1,1.12)" text-anchor="middle">Band B</text>
<line x1="764.30" y1="200.60" x2="764.30" y2="205.40" stroke="#1a1a1a" stroke-width="1.35"/>
<text class="xl" transform="translate(764.30,216.80) scale(1,1.12)" text-anchor="middle">Band C</text>
<rect x="51.20" y="228.00" width="117.60" height="26.20" fill="#d9d9d9"/>
<path d="M73.00,412.00 L73.00,412.00 C72.73,411.33 71.92,409.50 71.40,408.00 C70.88,406.50 70.48,404.93 69.90,403.00 C69.32,401.07 68.60,398.57 67.90,396.40 C67.20,394.23 66.42,392.17 65.70,390.00 C64.98,387.83 64.10,385.57 63.60,383.40 C63.10,381.23 62.85,379.15 62.70,377.00 C62.55,374.85 62.55,372.67 62.70,370.50 C62.85,368.33 63.23,366.17 63.60,364.00 C63.97,361.83 64.40,359.67 64.90,357.50 C65.40,355.33 66.03,353.17 66.60,351.00 C67.17,348.83 67.75,346.67 68.30,344.50 C68.85,342.33 69.42,340.17 69.90,338.00 C70.38,335.83 70.88,333.67 71.20,331.50 C71.52,329.33 71.65,328.25 71.80,325.00 C71.95,321.75 72.00,316.17 72.10,312.00 C72.20,307.83 72.30,302.93 72.40,300.00 C72.50,297.07 72.65,295.33 72.70,294.40 L73.00,294.40 Z" fill="#F7934C"/>
<path d="M73.00,408.80 L75.00,408.80 C75.12,408.25 75.30,406.92 75.70,405.50 C76.10,404.08 76.75,402.25 77.40,400.30 C78.05,398.35 78.87,395.97 79.60,393.80 C80.33,391.63 81.30,389.25 81.80,387.30 C82.30,385.35 82.53,383.82 82.60,382.10 C82.67,380.38 82.48,378.93 82.20,377.00 C81.92,375.07 81.33,372.67 80.90,370.50 C80.47,368.33 80.03,366.17 79.60,364.00 C79.17,361.83 78.80,359.67 78.30,357.50 C77.80,355.33 77.10,353.17 76.60,351.00 C76.10,348.83 75.73,346.67 75.30,344.50 C74.87,342.33 74.30,340.17 74.00,338.00 C73.70,335.83 73.60,333.50 73.50,331.50 C73.40,329.50 73.42,326.92 73.40,326.00 L73.00,326.00 Z" fill="#8DD3EE"/>
<line x1="69.30" y1="356.20" x2="69.30" y2="382.10" stroke="#000" stroke-width="1.15"/>
<circle cx="69.30" cy="373.30" r="1.85" fill="#000"/>
<line x1="76.70" y1="364.00" x2="76.70" y2="388.60" stroke="#000" stroke-width="1.15"/>
<circle cx="76.70" cy="377.90" r="1.85" fill="#000"/>
<path d="M109.95,421.30 L109.95,421.30 C109.75,420.65 109.38,418.92 108.75,417.40 C108.12,415.88 107.12,413.93 106.15,412.20 C105.18,410.47 104.03,408.73 102.95,407.00 C101.87,405.27 100.63,403.53 99.65,401.80 C98.67,400.07 97.53,398.33 97.05,396.60 C96.57,394.87 96.53,393.33 96.75,391.40 C96.97,389.47 97.65,387.15 98.35,385.00 C99.05,382.85 100.15,380.67 100.95,378.50 C101.75,376.33 102.50,374.17 103.15,372.00 C103.80,369.83 104.28,367.67 104.85,365.50 C105.42,363.33 106.05,361.17 106.55,359.00 C107.05,356.83 107.48,354.67 107.85,352.50 C108.22,350.33 108.50,349.25 108.75,346.00 C109.00,342.75 109.23,337.27 109.35,333.00 C109.47,328.73 109.43,322.50 109.45,320.40 L109.95,320.40 Z" fill="#F7934C"/>
<path d="M109.95,414.20 L112.95,414.20 C113.23,413.65 113.83,412.32 114.65,410.90 C115.47,409.48 116.77,407.43 117.85,405.70 C118.93,403.97 120.35,402.23 121.15,400.50 C121.95,398.77 122.33,397.03 122.65,395.30 C122.97,393.57 123.30,391.82 123.05,390.10 C122.80,388.38 122.02,386.93 121.15,385.00 C120.28,383.07 118.83,380.67 117.85,378.50 C116.87,376.33 116.00,374.17 115.25,372.00 C114.50,369.83 113.85,367.67 113.35,365.50 C112.85,363.33 112.58,361.17 112.25,359.00 C111.92,356.83 111.57,354.67 111.35,352.50 C111.13,350.33 111.03,348.38 110.95,346.00 C110.87,343.62 110.87,339.50 110.85,338.20 L109.95,338.20 Z" fill="#8DD3EE"/>
<line x1="106.25" y1="372.60" x2="106.25" y2="395.60" stroke="#000" stroke-width="1.15"/>
<circle cx="106.25" cy="386.60" r="1.85" fill="#000"/>
<line x1="113.65" y1="377.80" x2="113.65" y2="395.30" stroke="#000" stroke-width="1.15"/>
<circle cx="113.65" cy="390.10" r="1.85" fill="#000"/>
<path d="M146.90,402.40 L146.10,402.40 C145.95,401.33 145.57,398.17 145.20,396.00 C144.83,393.83 144.33,391.57 143.90,389.40 C143.47,387.23 143.07,385.17 142.60,383.00 C142.13,380.83 141.57,378.57 141.10,376.40 C140.63,374.23 140.08,372.15 139.80,370.00 C139.52,367.85 139.40,365.67 139.40,363.50 C139.40,361.33 139.48,360.25 139.80,357.00 C140.12,353.75 140.72,348.33 141.30,344.00 C141.88,339.67 142.65,335.33 143.30,331.00 C143.95,326.67 144.80,322.33 145.20,318.00 C145.60,313.67 145.55,309.67 145.70,305.00 C145.85,300.33 145.95,297.08 146.10,290.00 C146.25,282.92 146.52,267.08 146.60,262.50 L146.90,262.50 Z" fill="#F7934C"/>
<path d="M146.90,405.00 L148.40,405.00 C148.57,403.92 148.90,400.88 149.40,398.50 C149.90,396.12 150.68,393.28 151.40,390.70 C152.12,388.12 153.10,385.38 153.70,383.00 C154.30,380.62 154.68,378.57 155.00,376.40 C155.32,374.23 155.55,372.15 155.60,370.00 C155.65,367.85 155.62,366.10 155.30,363.50 C154.98,360.90 154.35,357.65 153.70,354.40 C153.05,351.15 152.22,347.90 151.40,344.00 C150.58,340.10 149.45,335.33 148.80,331.00 C148.15,326.67 147.75,322.13 147.50,318.00 C147.25,313.87 147.33,308.17 147.30,306.20 L146.90,306.20 Z" fill="#8DD3EE"/>
<line x1="143.20" y1="338.10" x2="143.20" y2="370.00" stroke="#000" stroke-width="1.15"/>
<circle cx="143.20" cy="358.50" r="1.85" fill="#000"/>
<line x1="150.60" y1="352.40" x2="150.60" y2="381.60" stroke="#000" stroke-width="1.15"/>
<circle cx="150.60" cy="366.70" r="1.85" fill="#000"/>
<line x1="51.20" y1="254.20" x2="51.20" y2="428.00" stroke="#767676" stroke-width="1.45"/>
<line x1="168.80" y1="254.20" x2="168.80" y2="428.00" stroke="#767676" stroke-width="1.45"/>
<line x1="50.40" y1="428.00" x2="169.60" y2="428.00" stroke="#555" stroke-width="1.6"/>
<line x1="51.20" y1="228.00" x2="51.20" y2="254.20" stroke="#767676" stroke-width="1.45"/>
<line x1="168.80" y1="228.00" x2="168.80" y2="254.20" stroke="#767676" stroke-width="1.45"/>
<line x1="50.40" y1="228.00" x2="169.60" y2="228.00" stroke="#666" stroke-width="1.3"/>
<line x1="50.40" y1="254.20" x2="169.60" y2="254.20" stroke="#3d3d3d" stroke-width="1.6"/>
<text class="st" transform="translate(110.00,246.20) scale(1,1.09)" text-anchor="middle">WM network 06</text>
<line x1="46.20" y1="314.40" x2="51.20" y2="314.40" stroke="#1a1a1a" stroke-width="1.35"/>
<text class="tk" transform="translate(42.80,319.00) scale(1,1.14)" text-anchor="end">0.10</text>
<line x1="46.20" y1="373.50" x2="51.20" y2="373.50" stroke="#1a1a1a" stroke-width="1.35"/>
<text class="tk" transform="translate(42.80,378.10) scale(1,1.14)" text-anchor="end">0.05</text>
<line x1="73.00" y1="428.00" x2="73.00" y2="432.80" stroke="#1a1a1a" stroke-width="1.35"/>
<text class="xl" transform="translate(73.00,444.20) scale(1,1.12)" text-anchor="middle">Band A</text>
<line x1="109.95" y1="428.00" x2="109.95" y2="432.80" stroke="#1a1a1a" stroke-width="1.35"/>
<text class="xl" transform="translate(109.95,444.20) scale(1,1.12)" text-anchor="middle">Band B</text>
<line x1="146.90" y1="428.00" x2="146.90" y2="432.80" stroke="#1a1a1a" stroke-width="1.35"/>
<text class="xl" transform="translate(146.90,444.20) scale(1,1.12)" text-anchor="middle">Band C</text>
<rect x="205.60" y="228.00" width="117.60" height="26.20" fill="#d9d9d9"/>
<path d="M227.40,419.60 L227.40,419.60 C227.25,417.67 226.73,411.03 226.50,408.00 C226.27,404.97 226.20,403.57 226.00,401.40 C225.80,399.23 225.67,397.17 225.30,395.00 C224.93,392.83 224.42,390.57 223.80,388.40 C223.18,386.23 222.32,384.15 221.60,382.00 C220.88,379.85 219.93,377.67 219.50,375.50 C219.07,373.33 218.93,371.17 219.00,369.00 C219.07,366.83 219.38,364.67 219.90,362.50 C220.42,360.33 221.30,358.17 222.10,356.00 C222.90,353.83 224.05,351.67 224.70,349.50 C225.35,347.33 225.63,345.17 226.00,343.00 C226.37,340.83 226.72,339.87 226.90,336.50 C227.08,333.13 227.07,329.93 227.10,322.80 C227.13,315.67 227.10,298.55 227.10,293.70 L227.40,293.70 Z" fill="#F7934C"/>
<path d="M227.40,414.40 L227.40,414.40 C227.67,413.33 228.47,410.38 229.00,408.00 C229.53,405.62 229.95,402.72 230.60,400.10 C231.25,397.48 232.15,394.90 232.90,392.30 C233.65,389.70 234.45,386.88 235.10,384.50 C235.75,382.12 236.52,380.15 236.80,378.00 C237.08,375.85 237.02,373.97 236.80,371.60 C236.58,369.23 236.05,366.40 235.50,363.80 C234.95,361.20 234.10,358.38 233.50,356.00 C232.90,353.62 232.43,351.67 231.90,349.50 C231.37,347.33 230.75,345.07 230.30,343.00 C229.85,340.93 229.38,338.08 229.20,337.10 L227.40,337.10 Z" fill="#8DD3EE"/>
<line x1="223.70" y1="363.10" x2="223.70" y2="381.30" stroke="#000" stroke-width="1.15"/>
<circle cx="223.70" cy="370.50" r="1.85" fill="#000"/>
<line x1="231.10" y1="363.10" x2="231.10" y2="387.10" stroke="#000" stroke-width="1.15"/>
<circle cx="231.10" cy="376.50" r="1.85" fill="#000"/>
<path d="M264.35,416.80 L264.35,416.80 C264.13,416.17 263.48,414.95 263.05,413.00 C262.62,411.05 262.28,407.27 261.75,405.10 C261.22,402.93 260.93,401.52 259.85,400.00 C258.77,398.48 256.55,397.32 255.25,396.00 C253.95,394.68 252.70,393.40 252.05,392.10 C251.40,390.80 251.10,389.72 251.35,388.20 C251.60,386.68 252.68,384.72 253.55,383.00 C254.42,381.28 255.55,379.40 256.55,377.90 C257.55,376.40 258.57,375.73 259.55,374.00 C260.53,372.27 261.80,369.67 262.45,367.50 C263.10,365.33 263.28,363.17 263.45,361.00 C263.62,358.83 263.40,356.67 263.45,354.50 C263.50,352.33 263.67,352.08 263.75,348.00 C263.83,343.92 263.90,335.18 263.95,330.00 C264.00,324.82 264.03,319.08 264.05,316.90 L264.35,316.90 Z" fill="#F7934C"/>
<path d="M264.35,417.50 L265.35,417.50 C265.72,416.75 266.42,414.85 267.55,413.00 C268.68,411.15 270.73,408.57 272.15,406.40 C273.57,404.23 275.12,402.17 276.05,400.00 C276.98,397.83 277.53,395.57 277.75,393.40 C277.97,391.23 277.85,389.15 277.35,387.00 C276.85,384.85 275.73,382.67 274.75,380.50 C273.77,378.33 272.47,376.17 271.45,374.00 C270.43,371.83 269.52,369.67 268.65,367.50 C267.78,365.33 266.87,363.17 266.25,361.00 C265.63,358.83 265.13,356.88 264.95,354.50 C264.77,352.12 265.12,348.00 265.15,346.70 L264.35,346.70 Z" fill="#8DD3EE"/>
<line x1="260.65" y1="380.50" x2="260.65" y2="391.50" stroke="#000" stroke-width="1.15"/>
<circle cx="260.65" cy="387.00" r="1.85" fill="#000"/>
<line x1="268.05" y1="381.10" x2="268.05" y2="397.30" stroke="#000" stroke-width="1.15"/>
<circle cx="268.05" cy="389.30" r="1.85" fill="#000"/>
<path d="M301.30,420.70 L301.30,420.70 C301.13,418.32 300.62,410.95 300.30,406.40 C299.98,401.85 299.72,397.72 299.40,393.40 C299.08,389.08 298.73,384.82 298.40,380.50 C298.07,376.18 297.65,371.83 297.40,367.50 C297.15,363.17 297.02,358.83 296.90,354.50 C296.78,350.17 296.70,344.75 296.70,341.50 C296.70,338.25 296.67,337.52 296.90,335.00 C297.13,332.48 297.70,330.00 298.10,326.40 C298.50,322.80 298.93,316.80 299.30,313.40 C299.67,310.00 300.05,307.50 300.30,306.00 C300.55,304.50 300.69,307.90 300.80,304.40 C300.91,300.90 300.92,291.93 300.95,285.00 C300.98,278.07 300.99,266.50 301.00,262.80 L301.30,262.80 Z" fill="#F7934C"/>
<path d="M301.30,415.50 L301.30,415.50 C301.52,413.98 302.07,410.08 302.60,406.40 C303.13,402.72 303.85,397.72 304.50,393.40 C305.15,389.08 305.85,384.82 306.50,380.50 C307.15,376.18 308.03,371.83 308.40,367.50 C308.77,363.17 308.80,358.83 308.70,354.50 C308.60,350.17 308.17,344.75 307.80,341.50 C307.43,338.25 306.93,337.52 306.50,335.00 C306.07,332.48 305.70,329.23 305.20,326.40 C304.70,323.57 304.05,320.82 303.50,318.00 C302.95,315.18 302.17,310.92 301.90,309.50 L301.30,309.50 Z" fill="#8DD3EE"/>
<line x1="297.60" y1="337.80" x2="297.60" y2="370.20" stroke="#000" stroke-width="1.15"/>
<circle cx="297.60" cy="354.70" r="1.85" fill="#000"/>
<line x1="305.00" y1="344.10" x2="305.00" y2="377.20" stroke="#000" stroke-width="1.15"/>
<circle cx="305.00" cy="362.90" r="1.85" fill="#000"/>
<line x1="205.60" y1="254.20" x2="205.60" y2="428.00" stroke="#767676" stroke-width="1.45"/>
<line x1="323.20" y1="254.20" x2="323.20" y2="428.00" stroke="#767676" stroke-width="1.45"/>
<line x1="204.80" y1="428.00" x2="324.00" y2="428.00" stroke="#555" stroke-width="1.6"/>
<line x1="205.60" y1="228.00" x2="205.60" y2="254.20" stroke="#767676" stroke-width="1.45"/>
<line x1="323.20" y1="228.00" x2="323.20" y2="254.20" stroke="#767676" stroke-width="1.45"/>
<line x1="204.80" y1="228.00" x2="324.00" y2="228.00" stroke="#666" stroke-width="1.3"/>
<line x1="204.80" y1="254.20" x2="324.00" y2="254.20" stroke="#3d3d3d" stroke-width="1.6"/>
<text class="st" transform="translate(264.40,246.20) scale(1,1.09)" text-anchor="middle">WM network 07</text>
<line x1="200.60" y1="256.70" x2="205.60" y2="256.70" stroke="#1a1a1a" stroke-width="1.35"/>
<text class="tk" transform="translate(197.20,261.30) scale(1,1.14)" text-anchor="end">0.15</text>
<line x1="200.60" y1="311.80" x2="205.60" y2="311.80" stroke="#1a1a1a" stroke-width="1.35"/>
<text class="tk" transform="translate(197.20,316.40) scale(1,1.14)" text-anchor="end">0.10</text>
<line x1="200.60" y1="366.50" x2="205.60" y2="366.50" stroke="#1a1a1a" stroke-width="1.35"/>
<text class="tk" transform="translate(197.20,371.10) scale(1,1.14)" text-anchor="end">0.05</text>
<line x1="200.60" y1="421.60" x2="205.60" y2="421.60" stroke="#1a1a1a" stroke-width="1.35"/>
<text class="tk" transform="translate(197.20,426.20) scale(1,1.14)" text-anchor="end">0.00</text>
<line x1="227.40" y1="428.00" x2="227.40" y2="432.80" stroke="#1a1a1a" stroke-width="1.35"/>
<text class="xl" transform="translate(227.40,444.20) scale(1,1.12)" text-anchor="middle">Band A</text>
<line x1="264.35" y1="428.00" x2="264.35" y2="432.80" stroke="#1a1a1a" stroke-width="1.35"/>
<text class="xl" transform="translate(264.35,444.20) scale(1,1.12)" text-anchor="middle">Band B</text>
<line x1="301.30" y1="428.00" x2="301.30" y2="432.80" stroke="#1a1a1a" stroke-width="1.35"/>
<text class="xl" transform="translate(301.30,444.20) scale(1,1.12)" text-anchor="middle">Band C</text>
<rect x="359.90" y="228.00" width="117.60" height="26.20" fill="#d9d9d9"/>
<path d="M381.70,405.30 L378.20,405.30 C378.08,404.65 377.78,403.12 377.50,401.40 C377.22,399.68 377.03,397.17 376.50,395.00 C375.97,392.83 375.00,390.57 374.30,388.40 C373.60,386.23 372.80,384.15 372.30,382.00 C371.80,379.85 371.47,377.67 371.30,375.50 C371.13,373.33 371.13,371.17 371.30,369.00 C371.47,366.83 371.80,364.67 372.30,362.50 C372.80,360.33 373.65,358.17 374.30,356.00 C374.95,353.83 375.62,351.67 376.20,349.50 C376.78,347.33 377.32,345.17 377.80,343.00 C378.28,340.83 378.72,338.67 379.10,336.50 C379.48,334.33 379.85,333.08 380.10,330.00 C380.35,326.92 380.45,321.67 380.60,318.00 C380.75,314.33 380.87,310.88 381.00,308.00 C381.13,305.12 381.33,301.92 381.40,300.70 L381.70,300.70 Z" fill="#F7934C"/>
<path d="M381.70,418.30 L381.70,418.30 C381.98,417.43 382.80,414.82 383.40,413.10 C384.00,411.38 384.55,409.95 385.30,408.00 C386.05,406.05 387.20,403.57 387.90,401.40 C388.60,399.23 389.17,397.17 389.50,395.00 C389.83,392.83 389.83,390.57 389.90,388.40 C389.97,386.23 390.02,384.15 389.90,382.00 C389.78,379.85 389.53,377.67 389.20,375.50 C388.87,373.33 388.37,371.17 387.90,369.00 C387.43,366.83 386.93,364.67 386.40,362.50 C385.87,360.33 385.15,358.08 384.70,356.00 C384.25,353.92 383.92,351.30 383.70,350.00 C383.48,348.70 383.45,348.50 383.40,348.20 L381.70,348.20 Z" fill="#8DD3EE"/>
<line x1="378.00" y1="357.30" x2="378.00" y2="380.40" stroke="#000" stroke-width="1.15"/>
<circle cx="378.00" cy="370.30" r="1.85" fill="#000"/>
<line x1="385.40" y1="371.60" x2="385.40" y2="397.50" stroke="#000" stroke-width="1.15"/>
<circle cx="385.40" cy="384.30" r="1.85" fill="#000"/>
<path d="M418.65,416.10 L415.15,416.10 C415.03,415.88 415.20,415.65 414.45,414.80 C413.70,413.95 411.77,412.73 410.65,411.00 C409.53,409.27 408.37,406.57 407.75,404.40 C407.13,402.23 407.12,400.17 406.95,398.00 C406.78,395.83 406.97,393.57 406.75,391.40 C406.53,389.23 405.55,387.15 405.65,385.00 C405.75,382.85 406.42,380.45 407.35,378.50 C408.28,376.55 410.07,375.03 411.25,373.30 C412.43,371.57 413.52,369.83 414.45,368.10 C415.38,366.37 416.35,364.85 416.85,362.90 C417.35,360.95 417.37,358.78 417.45,356.40 C417.53,354.02 417.45,351.00 417.35,348.60 C417.25,346.20 416.77,343.42 416.85,342.00 C416.93,340.58 417.68,340.42 417.85,340.10 L418.65,340.10 Z" fill="#F7934C"/>
<path d="M418.65,420.70 L420.65,420.70 C420.92,420.37 421.33,419.68 422.25,418.70 C423.17,417.72 424.85,416.32 426.15,414.80 C427.45,413.28 429.07,411.33 430.05,409.60 C431.03,407.87 432.08,406.33 432.05,404.40 C432.02,402.47 430.62,400.17 429.85,398.00 C429.08,395.83 428.38,393.57 427.45,391.40 C426.52,389.23 425.33,387.15 424.25,385.00 C423.17,382.85 421.82,380.23 420.95,378.50 C420.08,376.77 419.37,375.25 419.05,374.60 L418.65,374.60 Z" fill="#8DD3EE"/>
<line x1="414.95" y1="381.30" x2="414.95" y2="399.90" stroke="#000" stroke-width="1.15"/>
<circle cx="414.95" cy="387.50" r="1.85" fill="#000"/>
<line x1="422.35" y1="392.10" x2="422.35" y2="407.00" stroke="#000" stroke-width="1.15"/>
<circle cx="422.35" cy="401.20" r="1.85" fill="#000"/>
<path d="M455.60,397.50 L452.60,397.50 C452.43,396.30 451.92,393.22 451.60,390.30 C451.28,387.38 450.97,383.88 450.70,380.00 C450.43,376.12 450.15,371.33 450.00,367.00 C449.85,362.67 449.83,358.33 449.80,354.00 C449.77,349.67 449.72,345.33 449.80,341.00 C449.88,336.67 450.15,331.00 450.30,328.00 C450.45,325.00 450.57,324.93 450.70,323.00 C450.83,321.07 450.95,318.57 451.10,316.40 C451.25,314.23 451.33,312.15 451.60,310.00 C451.87,307.85 452.35,305.67 452.70,303.50 C453.05,301.33 453.38,299.17 453.70,297.00 C454.02,294.83 454.35,292.67 454.60,290.50 C454.85,288.33 455.10,287.25 455.20,284.00 C455.30,280.75 455.18,274.58 455.20,271.00 C455.22,267.42 455.28,263.92 455.30,262.50 L455.60,262.50 Z" fill="#F7934C"/>
<path d="M455.60,415.00 L455.60,415.00 C456.02,413.05 457.35,406.55 458.10,403.30 C458.85,400.05 459.50,398.32 460.10,395.50 C460.70,392.68 461.38,389.42 461.70,386.40 C462.02,383.38 462.05,380.63 462.00,377.40 C461.95,374.17 461.72,370.90 461.40,367.00 C461.08,363.10 460.52,358.33 460.10,354.00 C459.68,349.67 459.35,345.33 458.90,341.00 C458.45,336.67 457.68,331.00 457.40,328.00 C457.12,325.00 457.30,324.93 457.20,323.00 C457.10,321.07 456.87,317.50 456.80,316.40 L455.60,316.40 Z" fill="#8DD3EE"/>
<line x1="451.90" y1="326.80" x2="451.90" y2="373.70" stroke="#000" stroke-width="1.15"/>
<circle cx="451.90" cy="352.40" r="1.85" fill="#000"/>
<line x1="459.30" y1="348.10" x2="459.30" y2="387.70" stroke="#000" stroke-width="1.15"/>
<circle cx="459.30" cy="368.90" r="1.85" fill="#000"/>
<line x1="359.90" y1="254.20" x2="359.90" y2="428.00" stroke="#767676" stroke-width="1.45"/>
<line x1="477.50" y1="254.20" x2="477.50" y2="428.00" stroke="#767676" stroke-width="1.45"/>
<line x1="359.10" y1="428.00" x2="478.30" y2="428.00" stroke="#555" stroke-width="1.6"/>
<line x1="359.90" y1="228.00" x2="359.90" y2="254.20" stroke="#767676" stroke-width="1.45"/>
<line x1="477.50" y1="228.00" x2="477.50" y2="254.20" stroke="#767676" stroke-width="1.45"/>
<line x1="359.10" y1="228.00" x2="478.30" y2="228.00" stroke="#666" stroke-width="1.3"/>
<line x1="359.10" y1="254.20" x2="478.30" y2="254.20" stroke="#3d3d3d" stroke-width="1.6"/>
<text class="st" transform="translate(418.70,246.20) scale(1,1.09)" text-anchor="middle">WM network 08</text>
<line x1="354.90" y1="268.90" x2="359.90" y2="268.90" stroke="#1a1a1a" stroke-width="1.35"/>
<text class="tk" transform="translate(351.50,273.50) scale(1,1.14)" text-anchor="end">0.20</text>
<line x1="354.90" y1="311.80" x2="359.90" y2="311.80" stroke="#1a1a1a" stroke-width="1.35"/>
<text class="tk" transform="translate(351.50,316.40) scale(1,1.14)" text-anchor="end">0.15</text>
<line x1="354.90" y1="354.80" x2="359.90" y2="354.80" stroke="#1a1a1a" stroke-width="1.35"/>
<text class="tk" transform="translate(351.50,359.40) scale(1,1.14)" text-anchor="end">0.10</text>
<line x1="354.90" y1="397.70" x2="359.90" y2="397.70" stroke="#1a1a1a" stroke-width="1.35"/>
<text class="tk" transform="translate(351.50,402.30) scale(1,1.14)" text-anchor="end">0.05</text>
<line x1="381.70" y1="428.00" x2="381.70" y2="432.80" stroke="#1a1a1a" stroke-width="1.35"/>
<text class="xl" transform="translate(381.70,444.20) scale(1,1.12)" text-anchor="middle">Band A</text>
<line x1="418.65" y1="428.00" x2="418.65" y2="432.80" stroke="#1a1a1a" stroke-width="1.35"/>
<text class="xl" transform="translate(418.65,444.20) scale(1,1.12)" text-anchor="middle">Band B</text>
<line x1="455.60" y1="428.00" x2="455.60" y2="432.80" stroke="#1a1a1a" stroke-width="1.35"/>
<text class="xl" transform="translate(455.60,444.20) scale(1,1.12)" text-anchor="middle">Band C</text>
<rect x="514.20" y="228.00" width="117.60" height="26.20" fill="#d9d9d9"/>
<path d="M536.00,410.50 L533.50,410.50 C533.32,409.75 532.87,407.85 532.40,406.00 C531.93,404.15 531.20,401.57 530.70,399.40 C530.20,397.23 529.73,395.17 529.40,393.00 C529.07,390.83 528.85,388.57 528.70,386.40 C528.55,384.23 528.50,382.15 528.50,380.00 C528.50,377.85 528.55,375.67 528.70,373.50 C528.85,371.33 529.07,369.17 529.40,367.00 C529.73,364.83 530.20,362.67 530.70,360.50 C531.20,358.33 531.85,356.17 532.40,354.00 C532.95,351.83 533.57,349.67 534.00,347.50 C534.43,345.33 534.77,344.25 535.00,341.00 C535.23,337.75 535.32,333.17 535.40,328.00 C535.48,322.83 535.45,315.10 535.50,310.00 C535.55,304.90 535.67,299.50 535.70,297.40 L536.00,297.40 Z" fill="#F7934C"/>
<path d="M536.00,415.00 L536.00,415.00 C536.27,413.92 537.07,410.67 537.60,408.50 C538.13,406.33 538.62,404.17 539.20,402.00 C539.78,399.83 540.45,397.67 541.10,395.50 C541.75,393.33 542.60,390.95 543.10,389.00 C543.60,387.05 544.00,385.30 544.10,383.80 C544.20,382.30 544.03,381.72 543.70,380.00 C543.37,378.28 542.63,375.67 542.10,373.50 C541.57,371.33 541.03,369.17 540.50,367.00 C539.97,364.83 539.35,362.83 538.90,360.50 C538.45,358.17 538.02,354.52 537.80,353.00 C537.58,351.48 537.63,351.67 537.60,351.40 L536.00,351.40 Z" fill="#8DD3EE"/>
<line x1="532.30" y1="366.30" x2="532.30" y2="392.90" stroke="#000" stroke-width="1.15"/>
<circle cx="532.30" cy="377.10" r="1.85" fill="#000"/>
<line x1="539.70" y1="375.40" x2="539.70" y2="392.30" stroke="#000" stroke-width="1.15"/>
<circle cx="539.70" cy="384.50" r="1.85" fill="#000"/>
<path d="M572.95,418.10 L569.95,418.10 C569.53,417.55 568.40,416.22 567.45,414.80 C566.50,413.38 565.28,411.33 564.25,409.60 C563.22,407.87 561.97,406.13 561.25,404.40 C560.53,402.67 559.95,400.72 559.95,399.20 C559.95,397.68 560.60,396.82 561.25,395.30 C561.90,393.78 562.92,391.82 563.85,390.10 C564.78,388.38 565.92,386.72 566.85,385.00 C567.78,383.28 568.70,381.53 569.45,379.80 C570.20,378.07 570.82,376.45 571.35,374.60 C571.88,372.75 572.43,369.68 572.65,368.70 L572.95,368.70 Z" fill="#F7934C"/>
<path d="M572.95,351.30 L572.95,351.30 C572.78,350.25 572.15,347.12 571.95,345.00 C571.75,342.88 571.67,340.72 571.75,338.60 C571.83,336.48 572.33,333.35 572.45,332.30 L572.95,332.30 Z" fill="#F7934C"/>
<path d="M572.95,420.00 L572.95,420.00 C573.23,419.57 573.87,418.48 574.65,417.40 C575.43,416.32 576.57,415.02 577.65,413.50 C578.73,411.98 579.92,410.03 581.15,408.30 C582.38,406.57 584.18,404.62 585.05,403.10 C585.92,401.58 586.57,400.28 586.35,399.20 C586.13,398.12 584.83,397.90 583.75,396.60 C582.67,395.30 581.05,393.33 579.85,391.40 C578.65,389.47 577.42,387.15 576.55,385.00 C575.68,382.85 575.18,380.67 574.65,378.50 C574.12,376.33 573.57,373.08 573.35,372.00 L572.95,372.00 Z" fill="#8DD3EE"/>
<line x1="569.25" y1="386.90" x2="569.25" y2="402.50" stroke="#000" stroke-width="1.15"/>
<circle cx="569.25" cy="397.30" r="1.85" fill="#000"/>
<line x1="576.65" y1="394.00" x2="576.65" y2="405.10" stroke="#000" stroke-width="1.15"/>
<circle cx="576.65" cy="399.50" r="1.85" fill="#000"/>
<path d="M609.90,404.80 L608.40,404.80 C608.22,403.50 607.70,399.80 607.30,397.00 C606.90,394.20 606.37,391.67 606.00,388.00 C605.63,384.33 605.25,379.33 605.10,375.00 C604.95,370.67 605.02,366.33 605.10,362.00 C605.18,357.67 605.33,353.33 605.60,349.00 C605.87,344.67 606.32,340.33 606.70,336.00 C607.08,331.67 607.58,327.33 607.90,323.00 C608.22,318.67 608.40,314.67 608.60,310.00 C608.80,305.33 608.93,302.92 609.10,295.00 C609.27,287.08 609.52,267.92 609.60,262.50 L609.90,262.50 Z" fill="#F7934C"/>
<path d="M609.90,411.30 L609.90,411.30 C610.12,409.58 610.70,404.47 611.20,401.00 C611.70,397.53 612.32,393.77 612.90,390.50 C613.48,387.23 614.23,383.98 614.70,381.40 C615.17,378.82 615.42,377.15 615.70,375.00 C615.98,372.85 616.40,370.67 616.40,368.50 C616.40,366.33 616.03,364.17 615.70,362.00 C615.37,359.83 615.00,358.10 614.40,355.50 C613.80,352.90 612.63,349.65 612.10,346.40 C611.57,343.15 611.40,339.80 611.20,336.00 C611.00,332.20 610.95,325.67 610.90,323.60 L609.90,323.60 Z" fill="#8DD3EE"/>
<line x1="606.20" y1="341.20" x2="606.20" y2="382.10" stroke="#000" stroke-width="1.15"/>
<circle cx="606.20" cy="359.60" r="1.85" fill="#000"/>
<line x1="613.60" y1="358.10" x2="613.60" y2="378.80" stroke="#000" stroke-width="1.15"/>
<circle cx="613.60" cy="368.50" r="1.85" fill="#000"/>
<line x1="514.20" y1="254.20" x2="514.20" y2="428.00" stroke="#767676" stroke-width="1.45"/>
<line x1="631.80" y1="254.20" x2="631.80" y2="428.00" stroke="#767676" stroke-width="1.45"/>
<line x1="513.40" y1="428.00" x2="632.60" y2="428.00" stroke="#555" stroke-width="1.6"/>
<line x1="514.20" y1="228.00" x2="514.20" y2="254.20" stroke="#767676" stroke-width="1.45"/>
<line x1="631.80" y1="228.00" x2="631.80" y2="254.20" stroke="#767676" stroke-width="1.45"/>
<line x1="513.40" y1="228.00" x2="632.60" y2="228.00" stroke="#666" stroke-width="1.3"/>
<line x1="513.40" y1="254.20" x2="632.60" y2="254.20" stroke="#3d3d3d" stroke-width="1.6"/>
<text class="st" transform="translate(573.00,246.20) scale(1,1.09)" text-anchor="middle">WM network 09</text>
<line x1="509.20" y1="285.80" x2="514.20" y2="285.80" stroke="#1a1a1a" stroke-width="1.35"/>
<text class="tk" transform="translate(505.80,290.40) scale(1,1.14)" text-anchor="end">0.15</text>
<line x1="509.20" y1="334.70" x2="514.20" y2="334.70" stroke="#1a1a1a" stroke-width="1.35"/>
<text class="tk" transform="translate(505.80,339.30) scale(1,1.14)" text-anchor="end">0.10</text>
<line x1="509.20" y1="383.40" x2="514.20" y2="383.40" stroke="#1a1a1a" stroke-width="1.35"/>
<text class="tk" transform="translate(505.80,388.00) scale(1,1.14)" text-anchor="end">0.05</text>
<line x1="536.00" y1="428.00" x2="536.00" y2="432.80" stroke="#1a1a1a" stroke-width="1.35"/>
<text class="xl" transform="translate(536.00,444.20) scale(1,1.12)" text-anchor="middle">Band A</text>
<line x1="572.95" y1="428.00" x2="572.95" y2="432.80" stroke="#1a1a1a" stroke-width="1.35"/>
<text class="xl" transform="translate(572.95,444.20) scale(1,1.12)" text-anchor="middle">Band B</text>
<line x1="609.90" y1="428.00" x2="609.90" y2="432.80" stroke="#1a1a1a" stroke-width="1.35"/>
<text class="xl" transform="translate(609.90,444.20) scale(1,1.12)" text-anchor="middle">Band C</text>
<rect x="668.60" y="228.00" width="117.60" height="26.20" fill="#d9d9d9"/>
<path d="M690.40,406.00 L685.90,406.00 C685.85,405.23 685.82,403.23 685.60,401.40 C685.38,399.57 684.93,397.17 684.60,395.00 C684.27,392.83 683.98,390.57 683.60,388.40 C683.22,386.23 682.67,384.15 682.30,382.00 C681.93,379.85 681.55,377.67 681.40,375.50 C681.25,373.33 681.25,371.17 681.40,369.00 C681.55,366.83 681.87,364.67 682.30,362.50 C682.73,360.33 683.40,358.17 684.00,356.00 C684.60,353.83 685.32,351.67 685.90,349.50 C686.48,347.33 687.02,345.17 687.50,343.00 C687.98,340.83 688.47,338.67 688.80,336.50 C689.13,334.33 689.35,333.08 689.50,330.00 C689.65,326.92 689.62,320.93 689.70,318.00 C689.78,315.07 689.95,313.33 690.00,312.40 L690.40,312.40 Z" fill="#F7934C"/>
<path d="M690.40,418.30 L690.40,418.30 C690.72,417.00 691.70,412.88 692.30,410.50 C692.90,408.12 693.38,406.17 694.00,404.00 C694.62,401.83 695.28,399.67 696.00,397.50 C696.72,395.33 697.70,392.95 698.30,391.00 C698.90,389.05 699.45,387.30 699.60,385.80 C699.75,384.30 699.58,383.72 699.20,382.00 C698.82,380.28 697.95,377.67 697.30,375.50 C696.65,373.33 695.95,371.17 695.30,369.00 C694.65,366.83 693.93,364.67 693.40,362.50 C692.87,360.33 692.35,357.30 692.10,356.00 C691.85,354.70 691.93,354.92 691.90,354.70 L690.40,354.70 Z" fill="#8DD3EE"/>
<line x1="686.70" y1="358.60" x2="686.70" y2="387.10" stroke="#000" stroke-width="1.15"/>
<circle cx="686.70" cy="375.50" r="1.85" fill="#000"/>
<line x1="694.10" y1="377.40" x2="694.10" y2="397.50" stroke="#000" stroke-width="1.15"/>
<circle cx="694.10" cy="387.10" r="1.85" fill="#000"/>
<text x="689.90" y="316.60" text-anchor="middle" style="font-family:'Liberation Sans',sans-serif;font-size:16.5px;fill:#1a1a1a;letter-spacing:0px">*</text>
<path d="M727.35,414.80 L722.35,414.80 C721.83,414.37 720.40,413.50 719.25,412.20 C718.10,410.90 716.30,408.95 715.45,407.00 C714.60,405.05 714.37,402.67 714.15,400.50 C713.93,398.33 714.15,396.17 714.15,394.00 C714.15,391.83 713.88,389.43 714.15,387.50 C714.42,385.57 714.90,384.12 715.75,382.40 C716.60,380.68 718.12,378.93 719.25,377.20 C720.38,375.47 721.68,373.95 722.55,372.00 C723.42,370.05 723.92,367.67 724.45,365.50 C724.98,363.33 725.47,361.38 725.75,359.00 C726.03,356.62 726.08,352.50 726.15,351.20 L727.35,351.20 Z" fill="#F7934C"/>
<path d="M727.35,420.70 L729.35,420.70 C729.52,420.37 729.75,419.68 730.35,418.70 C730.95,417.72 731.87,416.32 732.95,414.80 C734.03,413.28 735.67,411.33 736.85,409.60 C738.03,407.87 739.52,405.92 740.05,404.40 C740.58,402.88 740.58,402.23 740.05,400.50 C739.52,398.77 737.93,396.17 736.85,394.00 C735.77,391.83 734.53,389.67 733.55,387.50 C732.57,385.33 731.45,382.92 730.95,381.00 C730.45,379.08 730.65,376.97 730.55,376.00 C730.45,375.03 730.38,375.33 730.35,375.20 L727.35,375.20 Z" fill="#8DD3EE"/>
<line x1="723.65" y1="383.00" x2="723.65" y2="401.20" stroke="#000" stroke-width="1.15"/>
<circle cx="723.65" cy="390.10" r="1.85" fill="#000"/>
<line x1="731.05" y1="394.00" x2="731.05" y2="406.40" stroke="#000" stroke-width="1.15"/>
<circle cx="731.05" cy="399.50" r="1.85" fill="#000"/>
<text x="726.85" y="354.70" text-anchor="middle" style="font-family:'Liberation Sans',sans-serif;font-size:16.5px;fill:#1a1a1a;letter-spacing:0px">*</text>
<path d="M764.30,398.10 L760.80,398.10 C760.63,396.80 760.13,393.32 759.80,390.30 C759.47,387.28 759.07,383.88 758.80,380.00 C758.53,376.12 758.25,371.33 758.20,367.00 C758.15,362.67 758.33,358.33 758.50,354.00 C758.67,349.67 758.93,345.33 759.20,341.00 C759.47,336.67 759.75,331.83 760.10,328.00 C760.45,324.17 760.88,321.85 761.30,318.00 C761.72,314.15 762.23,310.40 762.60,304.90 C762.97,299.40 763.27,292.07 763.50,285.00 C763.73,277.93 763.92,266.25 764.00,262.50 L764.30,262.50 Z" fill="#F7934C"/>
<path d="M764.30,415.00 L764.30,415.00 C764.68,413.27 765.88,407.85 766.60,404.60 C767.32,401.35 768.05,398.53 768.60,395.50 C769.15,392.47 769.58,389.42 769.90,386.40 C770.22,383.38 770.55,380.63 770.50,377.40 C770.45,374.17 770.03,370.90 769.60,367.00 C769.17,363.10 768.50,358.33 767.90,354.00 C767.30,349.67 766.47,345.33 766.00,341.00 C765.53,336.67 765.28,330.78 765.10,328.00 C764.92,325.22 764.93,324.92 764.90,324.30 L764.30,324.30 Z" fill="#8DD3EE"/>
<line x1="760.60" y1="335.10" x2="760.60" y2="376.00" stroke="#000" stroke-width="1.15"/>
<circle cx="760.60" cy="360.70" r="1.85" fill="#000"/>
<line x1="768.00" y1="362.00" x2="768.00" y2="391.60" stroke="#000" stroke-width="1.15"/>
<circle cx="768.00" cy="376.00" r="1.85" fill="#000"/>
<text x="763.80" y="267.40" text-anchor="middle" style="font-family:'Liberation Sans',sans-serif;font-size:16.5px;fill:#1a1a1a;letter-spacing:0px">*</text>
<line x1="668.60" y1="254.20" x2="668.60" y2="428.00" stroke="#767676" stroke-width="1.45"/>
<line x1="786.20" y1="254.20" x2="786.20" y2="428.00" stroke="#767676" stroke-width="1.45"/>
<line x1="667.80" y1="428.00" x2="787.00" y2="428.00" stroke="#555" stroke-width="1.6"/>
<line x1="668.60" y1="228.00" x2="668.60" y2="254.20" stroke="#767676" stroke-width="1.45"/>
<line x1="786.20" y1="228.00" x2="786.20" y2="254.20" stroke="#767676" stroke-width="1.45"/>
<line x1="667.80" y1="228.00" x2="787.00" y2="228.00" stroke="#666" stroke-width="1.3"/>
<line x1="667.80" y1="254.20" x2="787.00" y2="254.20" stroke="#3d3d3d" stroke-width="1.6"/>
<text class="st" transform="translate(727.40,246.20) scale(1,1.09)" text-anchor="middle">WM network 10</text>
<line x1="663.60" y1="267.60" x2="668.60" y2="267.60" stroke="#1a1a1a" stroke-width="1.35"/>
<text class="tk" transform="translate(660.20,272.20) scale(1,1.14)" text-anchor="end">0.16</text>
<line x1="663.60" y1="307.90" x2="668.60" y2="307.90" stroke="#1a1a1a" stroke-width="1.35"/>
<text class="tk" transform="translate(660.20,312.50) scale(1,1.14)" text-anchor="end">0.12</text>
<line x1="663.60" y1="349.00" x2="668.60" y2="349.00" stroke="#1a1a1a" stroke-width="1.35"/>
<text class="tk" transform="translate(660.20,353.60) scale(1,1.14)" text-anchor="end">0.08</text>
<line x1="663.60" y1="390.40" x2="668.60" y2="390.40" stroke="#1a1a1a" stroke-width="1.35"/>
<text class="tk" transform="translate(660.20,395.00) scale(1,1.14)" text-anchor="end">0.04</text>
<line x1="690.40" y1="428.00" x2="690.40" y2="432.80" stroke="#1a1a1a" stroke-width="1.35"/>
<text class="xl" transform="translate(690.40,444.20) scale(1,1.12)" text-anchor="middle">Band A</text>
<line x1="727.35" y1="428.00" x2="727.35" y2="432.80" stroke="#1a1a1a" stroke-width="1.35"/>
<text class="xl" transform="translate(727.35,444.20) scale(1,1.12)" text-anchor="middle">Band B</text>
<line x1="764.30" y1="428.00" x2="764.30" y2="432.80" stroke="#1a1a1a" stroke-width="1.35"/>
<text class="xl" transform="translate(764.30,444.20) scale(1,1.12)" text-anchor="middle">Band C</text>
<rect x="51.20" y="455.40" width="117.60" height="26.20" fill="#d9d9d9"/>
<path d="M73.00,643.00 L70.50,643.00 C70.27,642.35 69.62,640.60 69.10,639.10 C68.58,637.60 67.98,635.95 67.40,634.00 C66.82,632.05 66.12,629.57 65.60,627.40 C65.08,625.23 64.58,623.17 64.30,621.00 C64.02,618.83 63.82,616.57 63.90,614.40 C63.98,612.23 64.37,610.15 64.80,608.00 C65.23,605.85 65.93,603.67 66.50,601.50 C67.07,599.33 67.65,597.17 68.20,595.00 C68.75,592.83 69.43,590.67 69.80,588.50 C70.17,586.33 70.23,585.25 70.40,582.00 C70.57,578.75 70.68,573.33 70.80,569.00 C70.92,564.67 71.00,560.00 71.10,556.00 C71.20,552.00 71.13,547.35 71.40,545.00 C71.67,542.65 72.48,542.42 72.70,541.90 L73.00,541.90 Z" fill="#F7934C"/>
<path d="M73.00,638.50 L77.50,638.50 C77.72,637.75 78.42,635.85 78.80,634.00 C79.18,632.15 79.53,629.57 79.80,627.40 C80.07,625.23 80.35,623.17 80.40,621.00 C80.45,618.83 80.37,616.57 80.10,614.40 C79.83,612.23 79.27,610.15 78.80,608.00 C78.33,605.85 77.73,603.67 77.30,601.50 C76.87,599.33 76.47,597.25 76.20,595.00 C75.93,592.75 75.80,589.63 75.70,588.00 C75.60,586.37 75.62,585.67 75.60,585.20 L73.00,585.20 Z" fill="#8DD3EE"/>
<line x1="69.30" y1="597.30" x2="69.30" y2="626.80" stroke="#000" stroke-width="1.15"/>
<circle cx="69.30" cy="613.10" r="1.85" fill="#000"/>
<line x1="76.70" y1="609.20" x2="76.70" y2="628.10" stroke="#000" stroke-width="1.15"/>
<circle cx="76.70" cy="616.40" r="1.85" fill="#000"/>
<path d="M109.95,647.10 L99.95,647.10 C99.57,646.55 98.22,645.00 97.65,643.80 C97.08,642.60 96.77,641.42 96.55,639.90 C96.33,638.38 96.28,636.43 96.35,634.70 C96.42,632.97 96.52,631.23 96.95,629.50 C97.38,627.77 98.08,626.03 98.95,624.30 C99.82,622.57 101.12,620.82 102.15,619.10 C103.18,617.38 104.38,615.93 105.15,614.00 C105.92,612.07 106.43,609.67 106.75,607.50 C107.07,605.33 107.00,603.17 107.05,601.00 C107.10,598.83 107.05,596.57 107.05,594.50 C107.05,592.43 107.05,589.58 107.05,588.60 L109.95,588.60 Z" fill="#F7934C"/>
<path d="M109.95,647.10 L119.95,647.10 C120.33,646.33 121.60,643.92 122.25,642.50 C122.90,641.08 123.80,639.90 123.85,638.60 C123.90,637.30 123.25,636.22 122.55,634.70 C121.85,633.18 120.67,631.23 119.65,629.50 C118.63,627.77 117.42,626.03 116.45,624.30 C115.48,622.57 114.65,620.82 113.85,619.10 C113.05,617.38 112.20,615.93 111.65,614.00 C111.10,612.07 110.73,608.58 110.55,607.50 L109.95,607.50 Z" fill="#8DD3EE"/>
<line x1="106.25" y1="620.40" x2="106.25" y2="639.90" stroke="#000" stroke-width="1.15"/>
<circle cx="106.25" cy="630.80" r="1.85" fill="#000"/>
<line x1="113.65" y1="628.20" x2="113.65" y2="638.00" stroke="#000" stroke-width="1.15"/>
<circle cx="113.65" cy="634.10" r="1.85" fill="#000"/>
<path d="M146.90,643.00 L145.90,643.00 C145.75,641.92 145.37,639.10 145.00,636.50 C144.63,633.90 144.10,630.43 143.70,627.40 C143.30,624.37 142.87,621.53 142.60,618.30 C142.33,615.07 142.18,611.88 142.10,608.00 C142.02,604.12 142.02,599.33 142.10,595.00 C142.18,590.67 142.33,586.33 142.60,582.00 C142.87,577.67 143.35,573.33 143.70,569.00 C144.05,564.67 144.45,560.00 144.70,556.00 C144.95,552.00 145.00,551.10 145.20,545.00 C145.40,538.90 145.67,528.65 145.90,519.40 C146.13,510.15 146.48,494.48 146.60,489.50 L146.90,489.50 Z" fill="#F7934C"/>
<path d="M146.90,635.20 L148.90,635.20 C149.10,633.90 149.68,629.77 150.10,627.40 C150.52,625.03 151.13,623.17 151.40,621.00 C151.67,618.83 151.70,616.57 151.70,614.40 C151.70,612.23 151.62,611.23 151.40,608.00 C151.18,604.77 150.72,599.33 150.40,595.00 C150.08,590.67 149.80,586.33 149.50,582.00 C149.20,577.67 148.82,573.33 148.60,569.00 C148.38,564.67 148.28,558.28 148.20,556.00 C148.12,553.72 148.12,555.42 148.10,555.30 L146.90,555.30 Z" fill="#8DD3EE"/>
<line x1="143.20" y1="569.60" x2="143.20" y2="614.40" stroke="#000" stroke-width="1.15"/>
<circle cx="143.20" cy="590.40" r="1.85" fill="#000"/>
<line x1="150.60" y1="585.90" x2="150.60" y2="617.00" stroke="#000" stroke-width="1.15"/>
<circle cx="150.60" cy="601.70" r="1.85" fill="#000"/>
<line x1="51.20" y1="481.60" x2="51.20" y2="655.40" stroke="#767676" stroke-width="1.45"/>
<line x1="168.80" y1="481.60" x2="168.80" y2="655.40" stroke="#767676" stroke-width="1.45"/>
<line x1="50.40" y1="655.40" x2="169.60" y2="655.40" stroke="#555" stroke-width="1.6"/>
<line x1="51.20" y1="455.40" x2="51.20" y2="481.60" stroke="#767676" stroke-width="1.45"/>
<line x1="168.80" y1="455.40" x2="168.80" y2="481.60" stroke="#767676" stroke-width="1.45"/>
<line x1="50.40" y1="455.40" x2="169.60" y2="455.40" stroke="#666" stroke-width="1.3"/>
<line x1="50.40" y1="481.60" x2="169.60" y2="481.60" stroke="#3d3d3d" stroke-width="1.6"/>
<text class="st" transform="translate(110.00,473.60) scale(1,1.09)" text-anchor="middle">WM network 11</text>
<line x1="46.20" y1="512.30" x2="51.20" y2="512.30" stroke="#1a1a1a" stroke-width="1.35"/>
<text class="tk" transform="translate(42.80,516.90) scale(1,1.14)" text-anchor="end">0.20</text>
<line x1="46.20" y1="550.50" x2="51.20" y2="550.50" stroke="#1a1a1a" stroke-width="1.35"/>
<text class="tk" transform="translate(42.80,555.10) scale(1,1.14)" text-anchor="end">0.15</text>
<line x1="46.20" y1="589.00" x2="51.20" y2="589.00" stroke="#1a1a1a" stroke-width="1.35"/>
<text class="tk" transform="translate(42.80,593.60) scale(1,1.14)" text-anchor="end">0.10</text>
<line x1="46.20" y1="627.30" x2="51.20" y2="627.30" stroke="#1a1a1a" stroke-width="1.35"/>
<text class="tk" transform="translate(42.80,631.90) scale(1,1.14)" text-anchor="end">0.05</text>
<line x1="73.00" y1="655.40" x2="73.00" y2="660.20" stroke="#1a1a1a" stroke-width="1.35"/>
<text class="xl" transform="translate(73.00,671.60) scale(1,1.12)" text-anchor="middle">Band A</text>
<line x1="109.95" y1="655.40" x2="109.95" y2="660.20" stroke="#1a1a1a" stroke-width="1.35"/>
<text class="xl" transform="translate(109.95,671.60) scale(1,1.12)" text-anchor="middle">Band B</text>
<line x1="146.90" y1="655.40" x2="146.90" y2="660.20" stroke="#1a1a1a" stroke-width="1.35"/>
<text class="xl" transform="translate(146.90,671.60) scale(1,1.12)" text-anchor="middle">Band C</text>
<rect x="205.60" y="455.40" width="117.60" height="26.20" fill="#d9d9d9"/>
<path d="M227.40,640.40 L225.90,640.40 C225.78,639.85 225.48,638.50 225.20,637.10 C224.92,635.70 224.58,633.95 224.20,632.00 C223.82,630.05 223.33,627.57 222.90,625.40 C222.47,623.23 221.98,621.17 221.60,619.00 C221.22,616.83 220.77,614.57 220.60,612.40 C220.43,610.23 220.48,608.15 220.60,606.00 C220.72,603.85 221.03,601.67 221.30,599.50 C221.57,597.33 221.88,595.17 222.20,593.00 C222.52,590.83 222.82,588.67 223.20,586.50 C223.58,584.33 224.12,582.17 224.50,580.00 C224.88,577.83 225.22,575.67 225.50,573.50 C225.78,571.33 226.03,570.25 226.20,567.00 C226.37,563.75 226.40,558.50 226.50,554.00 C226.60,549.50 226.70,545.35 226.80,540.00 C226.90,534.65 227.05,524.92 227.10,521.90 L227.40,521.90 Z" fill="#F7934C"/>
<path d="M227.40,642.30 L227.40,642.30 C227.85,641.22 229.28,637.97 230.10,635.80 C230.92,633.63 231.57,631.47 232.30,629.30 C233.03,627.13 233.85,624.97 234.50,622.80 C235.15,620.63 235.85,618.25 236.20,616.30 C236.55,614.35 236.67,612.82 236.60,611.10 C236.53,609.38 236.23,607.93 235.80,606.00 C235.37,604.07 234.65,601.67 234.00,599.50 C233.35,597.33 232.55,595.17 231.90,593.00 C231.25,590.83 230.62,588.67 230.10,586.50 C229.58,584.33 229.03,581.95 228.80,580.00 C228.57,578.05 228.72,575.67 228.70,574.80 L227.40,574.80 Z" fill="#8DD3EE"/>
<line x1="223.70" y1="592.30" x2="223.70" y2="617.60" stroke="#000" stroke-width="1.15"/>
<circle cx="223.70" cy="607.90" r="1.85" fill="#000"/>
<line x1="231.10" y1="604.00" x2="231.10" y2="628.00" stroke="#000" stroke-width="1.15"/>
<circle cx="231.10" cy="614.00" r="1.85" fill="#000"/>
<path d="M264.35,647.70 L262.35,647.70 C262.10,647.15 261.37,645.60 260.85,644.40 C260.33,643.20 260.02,641.80 259.25,640.50 C258.48,639.20 257.38,638.12 256.25,636.60 C255.12,635.08 253.37,633.13 252.45,631.40 C251.53,629.67 250.92,627.72 250.75,626.20 C250.58,624.68 250.95,623.82 251.45,622.30 C251.95,620.78 252.83,618.82 253.75,617.10 C254.67,615.38 255.93,613.72 256.95,612.00 C257.97,610.28 258.98,608.53 259.85,606.80 C260.72,605.07 261.55,603.33 262.15,601.60 C262.75,599.87 263.18,599.00 263.45,596.40 C263.72,593.80 263.70,590.40 263.75,586.00 C263.80,581.60 263.73,575.12 263.75,570.00 C263.77,564.88 263.83,557.75 263.85,555.30 L264.35,555.30 Z" fill="#F7934C"/>
<path d="M264.35,645.70 L268.35,645.70 C268.93,645.27 270.72,644.18 271.85,643.10 C272.98,642.02 274.28,640.72 275.15,639.20 C276.02,637.68 276.80,635.73 277.05,634.00 C277.30,632.27 277.08,630.75 276.65,628.80 C276.22,626.85 275.25,624.47 274.45,622.30 C273.65,620.13 272.72,617.95 271.85,615.80 C270.98,613.65 269.87,611.37 269.25,609.40 C268.63,607.43 268.37,605.08 268.15,604.00 C267.93,602.92 267.98,603.08 267.95,602.90 L264.35,602.90 Z" fill="#8DD3EE"/>
<line x1="260.65" y1="614.50" x2="260.65" y2="628.80" stroke="#000" stroke-width="1.15"/>
<circle cx="260.65" cy="624.00" r="1.85" fill="#000"/>
<line x1="268.05" y1="620.40" x2="268.05" y2="635.30" stroke="#000" stroke-width="1.15"/>
<circle cx="268.05" cy="628.80" r="1.85" fill="#000"/>
<path d="M301.30,633.20 L299.80,633.20 C299.62,632.33 299.05,630.37 298.70,628.00 C298.35,625.63 298.05,622.67 297.70,619.00 C297.35,615.33 296.82,610.33 296.60,606.00 C296.38,601.67 296.40,597.33 296.40,593.00 C296.40,588.67 296.43,584.33 296.60,580.00 C296.77,575.67 297.12,571.33 297.40,567.00 C297.68,562.67 298.02,557.67 298.30,554.00 C298.58,550.33 298.78,550.67 299.10,545.00 C299.42,539.33 299.88,529.25 300.20,520.00 C300.52,510.75 300.87,494.58 301.00,489.50 L301.30,489.50 Z" fill="#F7934C"/>
<path d="M301.30,641.00 L301.30,641.00 C301.57,639.92 302.32,636.88 302.90,634.50 C303.48,632.12 304.15,629.28 304.80,626.70 C305.45,624.12 306.22,621.60 306.80,619.00 C307.38,616.40 308.08,613.70 308.30,611.10 C308.52,608.50 308.40,606.42 308.10,603.40 C307.80,600.38 307.15,596.90 306.50,593.00 C305.85,589.10 304.80,584.33 304.20,580.00 C303.60,575.67 303.23,571.33 302.90,567.00 C302.57,562.67 302.35,556.87 302.20,554.00 C302.05,551.13 302.03,550.50 302.00,549.80 L301.30,549.80 Z" fill="#8DD3EE"/>
<line x1="297.60" y1="569.60" x2="297.60" y2="609.20" stroke="#000" stroke-width="1.15"/>
<circle cx="297.60" cy="588.80" r="1.85" fill="#000"/>
<line x1="305.00" y1="587.10" x2="305.00" y2="617.00" stroke="#000" stroke-width="1.15"/>
<circle cx="305.00" cy="602.30" r="1.85" fill="#000"/>
<line x1="205.60" y1="481.60" x2="205.60" y2="655.40" stroke="#767676" stroke-width="1.45"/>
<line x1="323.20" y1="481.60" x2="323.20" y2="655.40" stroke="#767676" stroke-width="1.45"/>
<line x1="204.80" y1="655.40" x2="324.00" y2="655.40" stroke="#555" stroke-width="1.6"/>
<line x1="205.60" y1="455.40" x2="205.60" y2="481.60" stroke="#767676" stroke-width="1.45"/>
<line x1="323.20" y1="455.40" x2="323.20" y2="481.60" stroke="#767676" stroke-width="1.45"/>
<line x1="204.80" y1="455.40" x2="324.00" y2="455.40" stroke="#666" stroke-width="1.3"/>
<line x1="204.80" y1="481.60" x2="324.00" y2="481.60" stroke="#3d3d3d" stroke-width="1.6"/>
<text class="st" transform="translate(264.40,473.60) scale(1,1.09)" text-anchor="middle">WM network 12</text>
<line x1="200.60" y1="527.10" x2="205.60" y2="527.10" stroke="#1a1a1a" stroke-width="1.35"/>
<text class="tk" transform="translate(197.20,531.70) scale(1,1.14)" text-anchor="end">0.12</text>
<line x1="200.60" y1="574.50" x2="205.60" y2="574.50" stroke="#1a1a1a" stroke-width="1.35"/>
<text class="tk" transform="translate(197.20,579.10) scale(1,1.14)" text-anchor="end">0.08</text>
<line x1="200.60" y1="621.60" x2="205.60" y2="621.60" stroke="#1a1a1a" stroke-width="1.35"/>
<text class="tk" transform="translate(197.20,626.20) scale(1,1.14)" text-anchor="end">0.04</text>
<line x1="227.40" y1="655.40" x2="227.40" y2="660.20" stroke="#1a1a1a" stroke-width="1.35"/>
<text class="xl" transform="translate(227.40,671.60) scale(1,1.12)" text-anchor="middle">Band A</text>
<line x1="264.35" y1="655.40" x2="264.35" y2="660.20" stroke="#1a1a1a" stroke-width="1.35"/>
<text class="xl" transform="translate(264.35,671.60) scale(1,1.12)" text-anchor="middle">Band B</text>
<line x1="301.30" y1="655.40" x2="301.30" y2="660.20" stroke="#1a1a1a" stroke-width="1.35"/>
<text class="xl" transform="translate(301.30,671.60) scale(1,1.12)" text-anchor="middle">Band C</text>
<rect x="359.90" y="455.40" width="117.60" height="26.20" fill="#d9d9d9"/>
<path d="M381.70,635.20 L380.20,635.20 C380.15,634.67 380.23,633.63 379.90,632.00 C379.57,630.37 378.77,627.57 378.20,625.40 C377.63,623.23 377.05,621.17 376.50,619.00 C375.95,616.83 375.33,614.57 374.90,612.40 C374.47,610.23 374.12,608.15 373.90,606.00 C373.68,603.85 373.47,601.67 373.60,599.50 C373.73,597.33 374.22,595.17 374.70,593.00 C375.18,590.83 375.92,588.67 376.50,586.50 C377.08,584.33 377.63,583.25 378.20,580.00 C378.77,576.75 379.47,571.33 379.90,567.00 C380.33,562.67 380.60,558.50 380.80,554.00 C381.00,549.50 381.00,544.18 381.10,540.00 C381.20,535.82 381.35,530.75 381.40,528.90 L381.70,528.90 Z" fill="#F7934C"/>
<path d="M381.70,642.30 L381.70,642.30 C381.98,641.00 382.80,636.67 383.40,634.50 C384.00,632.33 384.43,631.25 385.30,629.30 C386.17,627.35 387.62,624.97 388.60,622.80 C389.58,620.63 390.67,618.25 391.20,616.30 C391.73,614.35 392.02,612.82 391.80,611.10 C391.58,609.38 390.65,607.93 389.90,606.00 C389.15,604.07 388.10,601.67 387.30,599.50 C386.50,597.33 385.75,595.17 385.10,593.00 C384.45,590.83 383.87,588.67 383.40,586.50 C382.93,584.33 382.48,581.08 382.30,580.00 L381.70,580.00 Z" fill="#8DD3EE"/>
<line x1="378.00" y1="584.50" x2="378.00" y2="612.40" stroke="#000" stroke-width="1.15"/>
<circle cx="378.00" cy="600.10" r="1.85" fill="#000"/>
<line x1="385.40" y1="606.00" x2="385.40" y2="619.60" stroke="#000" stroke-width="1.15"/>
<circle cx="385.40" cy="613.70" r="1.85" fill="#000"/>
<text x="381.85" y="532.70" text-anchor="middle" style="font-family:'Liberation Sans',sans-serif;font-size:16.5px;fill:#1a1a1a;letter-spacing:1.3px">**</text>
<path d="M418.65,641.80 L417.65,641.80 C417.28,641.15 416.37,639.42 415.45,637.90 C414.53,636.38 413.23,634.43 412.15,632.70 C411.07,630.97 409.92,629.23 408.95,627.50 C407.98,625.77 406.85,624.03 406.35,622.30 C405.85,620.57 405.67,618.82 405.95,617.10 C406.23,615.38 407.12,613.93 408.05,612.00 C408.98,610.07 410.48,607.67 411.55,605.50 C412.62,603.33 413.70,601.17 414.45,599.00 C415.20,596.83 415.67,594.67 416.05,592.50 C416.43,590.33 416.53,588.17 416.75,586.00 C416.97,583.83 417.13,581.67 417.35,579.50 C417.57,577.33 417.98,574.92 418.05,573.00 C418.12,571.08 417.80,569.30 417.75,568.00 C417.70,566.70 417.75,565.67 417.75,565.20 L418.65,565.20 Z" fill="#F7934C"/>
<path d="M418.65,648.30 L418.65,648.30 C418.82,647.43 419.00,644.62 419.65,643.10 C420.30,641.58 421.42,640.72 422.55,639.20 C423.68,637.68 425.15,635.73 426.45,634.00 C427.75,632.27 429.38,630.30 430.35,628.80 C431.32,627.30 432.25,626.30 432.25,625.00 C432.25,623.70 431.22,622.53 430.35,621.00 C429.48,619.47 427.97,617.30 427.05,615.80 C426.13,614.30 425.17,613.30 424.85,612.00 C424.53,610.70 425.32,609.30 425.15,608.00 C424.98,606.70 424.40,605.28 423.85,604.20 C423.30,603.12 422.28,602.15 421.85,601.50 C421.42,600.85 421.35,600.50 421.25,600.30 L418.65,600.30 Z" fill="#8DD3EE"/>
<line x1="414.95" y1="606.80" x2="414.95" y2="623.60" stroke="#000" stroke-width="1.15"/>
<circle cx="414.95" cy="617.40" r="1.85" fill="#000"/>
<line x1="422.35" y1="617.80" x2="422.35" y2="628.80" stroke="#000" stroke-width="1.15"/>
<circle cx="422.35" cy="623.90" r="1.85" fill="#000"/>
<text x="418.15" y="569.30" text-anchor="middle" style="font-family:'Liberation Sans',sans-serif;font-size:16.5px;fill:#1a1a1a;letter-spacing:0px">*</text>
<path d="M455.60,627.90 L454.10,627.90 C453.97,627.03 453.65,624.85 453.30,622.70 C452.95,620.55 452.50,618.45 452.00,615.00 C451.50,611.55 450.67,606.33 450.30,602.00 C449.93,597.67 449.80,593.33 449.80,589.00 C449.80,584.67 450.00,580.33 450.30,576.00 C450.60,571.67 451.17,567.33 451.60,563.00 C452.03,558.67 452.53,553.83 452.90,550.00 C453.27,546.17 453.52,545.00 453.80,540.00 C454.08,535.00 454.35,528.42 454.60,520.00 C454.85,511.58 455.18,494.58 455.30,489.50 L455.60,489.50 Z" fill="#F7934C"/>
<path d="M455.60,638.30 L455.60,638.30 C455.87,637.43 456.67,635.05 457.20,633.10 C457.73,631.15 458.15,628.98 458.80,626.60 C459.45,624.22 460.40,621.40 461.10,618.80 C461.80,616.20 462.63,613.38 463.00,611.00 C463.37,608.62 463.52,607.08 463.30,604.50 C463.08,601.92 462.40,599.17 461.70,595.50 C461.00,591.83 459.92,586.83 459.10,582.50 C458.28,578.17 457.25,573.18 456.80,569.50 C456.35,565.82 456.47,561.92 456.40,560.40 L455.60,560.40 Z" fill="#8DD3EE"/>
<line x1="451.90" y1="559.70" x2="451.90" y2="601.30" stroke="#000" stroke-width="1.15"/>
<circle cx="451.90" cy="584.00" r="1.85" fill="#000"/>
<line x1="459.30" y1="589.00" x2="459.30" y2="611.70" stroke="#000" stroke-width="1.15"/>
<circle cx="459.30" cy="604.30" r="1.85" fill="#000"/>
<text x="455.75" y="495.20" text-anchor="middle" style="font-family:'Liberation Sans',sans-serif;font-size:16.5px;fill:#1a1a1a;letter-spacing:1.3px">**</text>
<line x1="359.90" y1="481.60" x2="359.90" y2="655.40" stroke="#767676" stroke-width="1.45"/>
<line x1="477.50" y1="481.60" x2="477.50" y2="655.40" stroke="#767676" stroke-width="1.45"/>
<line x1="359.10" y1="655.40" x2="478.30" y2="655.40" stroke="#555" stroke-width="1.6"/>
<line x1="359.90" y1="455.40" x2="359.90" y2="481.60" stroke="#767676" stroke-width="1.45"/>
<line x1="477.50" y1="455.40" x2="477.50" y2="481.60" stroke="#767676" stroke-width="1.45"/>
<line x1="359.10" y1="455.40" x2="478.30" y2="455.40" stroke="#666" stroke-width="1.3"/>
<line x1="359.10" y1="481.60" x2="478.30" y2="481.60" stroke="#3d3d3d" stroke-width="1.6"/>
<text class="st" transform="translate(418.70,473.60) scale(1,1.09)" text-anchor="middle">WM network 13</text>
<line x1="354.90" y1="533.60" x2="359.90" y2="533.60" stroke="#1a1a1a" stroke-width="1.35"/>
<text class="tk" transform="translate(351.50,538.20) scale(1,1.14)" text-anchor="end">0.10</text>
<line x1="354.90" y1="596.10" x2="359.90" y2="596.10" stroke="#1a1a1a" stroke-width="1.35"/>
<text class="tk" transform="translate(351.50,600.70) scale(1,1.14)" text-anchor="end">0.05</text>
<line x1="381.70" y1="655.40" x2="381.70" y2="660.20" stroke="#1a1a1a" stroke-width="1.35"/>
<text class="xl" transform="translate(381.70,671.60) scale(1,1.12)" text-anchor="middle">Band A</text>
<line x1="418.65" y1="655.40" x2="418.65" y2="660.20" stroke="#1a1a1a" stroke-width="1.35"/>
<text class="xl" transform="translate(418.65,671.60) scale(1,1.12)" text-anchor="middle">Band B</text>
<line x1="455.60" y1="655.40" x2="455.60" y2="660.20" stroke="#1a1a1a" stroke-width="1.35"/>
<text class="xl" transform="translate(455.60,671.60) scale(1,1.12)" text-anchor="middle">Band C</text>
<rect x="514.20" y="455.40" width="117.60" height="26.20" fill="#d9d9d9"/>
<path d="M536.00,632.70 L532.50,632.70 C532.37,632.15 532.08,631.02 531.70,629.40 C531.32,627.78 530.67,625.17 530.20,623.00 C529.73,620.83 529.18,618.57 528.90,616.40 C528.62,614.23 528.50,612.15 528.50,610.00 C528.50,607.85 528.67,605.67 528.90,603.50 C529.13,601.33 529.43,599.17 529.90,597.00 C530.37,594.83 531.12,592.67 531.70,590.50 C532.28,588.33 532.90,586.17 533.40,584.00 C533.90,581.83 534.48,579.67 534.70,577.50 C534.92,575.33 534.77,573.17 534.70,571.00 C534.63,568.83 534.42,566.67 534.30,564.50 C534.18,562.33 534.07,559.93 534.00,558.00 C533.93,556.07 533.77,555.07 533.90,552.90 C534.03,550.73 534.57,547.98 534.80,545.00 C535.03,542.02 535.15,537.88 535.30,535.00 C535.45,532.12 535.63,528.92 535.70,527.70 L536.00,527.70 Z" fill="#F7934C"/>
<path d="M536.00,645.00 L536.00,645.00 C536.15,644.13 536.53,641.75 536.90,639.80 C537.27,637.85 537.55,635.47 538.20,633.30 C538.85,631.13 539.98,628.97 540.80,626.80 C541.62,624.63 542.53,622.25 543.10,620.30 C543.67,618.35 544.08,616.82 544.20,615.10 C544.32,613.38 544.08,611.93 543.80,610.00 C543.52,608.07 543.05,605.67 542.50,603.50 C541.95,601.33 541.08,599.17 540.50,597.00 C539.92,594.83 539.47,592.67 539.00,590.50 C538.53,588.33 538.03,586.38 537.70,584.00 C537.37,581.62 537.12,577.50 537.00,576.20 L536.00,576.20 Z" fill="#8DD3EE"/>
<line x1="532.30" y1="589.80" x2="532.30" y2="615.10" stroke="#000" stroke-width="1.15"/>
<circle cx="532.30" cy="604.10" r="1.85" fill="#000"/>
<line x1="539.70" y1="602.20" x2="539.70" y2="621.60" stroke="#000" stroke-width="1.15"/>
<circle cx="539.70" cy="612.50" r="1.85" fill="#000"/>
<path d="M572.95,641.20 L568.95,641.20 C568.82,640.87 568.45,640.18 568.15,639.20 C567.85,638.22 567.87,636.82 567.15,635.30 C566.43,633.78 565.05,631.82 563.85,630.10 C562.65,628.38 560.67,626.73 559.95,625.00 C559.23,623.27 559.33,621.23 559.55,619.70 C559.77,618.17 560.42,617.08 561.25,615.80 C562.08,614.52 563.47,613.30 564.55,612.00 C565.63,610.70 566.78,609.52 567.75,608.00 C568.72,606.48 569.70,604.83 570.35,602.90 C571.00,600.97 571.37,599.22 571.65,596.40 C571.93,593.58 571.93,589.90 572.05,586.00 C572.17,582.10 572.25,576.47 572.35,573.00 C572.45,569.53 572.60,566.50 572.65,565.20 L572.95,565.20 Z" fill="#F7934C"/>
<path d="M572.95,647.70 L572.95,647.70 C573.38,646.72 574.47,643.65 575.55,641.80 C576.63,639.95 578.05,638.33 579.45,636.60 C580.85,634.87 582.77,633.02 583.95,631.40 C585.13,629.78 586.33,628.20 586.55,626.90 C586.77,625.60 586.00,625.02 585.25,623.60 C584.50,622.18 583.13,620.33 582.05,618.40 C580.97,616.47 579.73,614.15 578.75,612.00 C577.77,609.85 576.90,607.67 576.15,605.50 C575.40,603.33 574.68,601.38 574.25,599.00 C573.82,596.62 573.67,592.50 573.55,591.20 L572.95,591.20 Z" fill="#8DD3EE"/>
<line x1="569.25" y1="612.00" x2="569.25" y2="625.00" stroke="#000" stroke-width="1.15"/>
<circle cx="569.25" cy="618.70" r="1.85" fill="#000"/>
<line x1="576.65" y1="614.50" x2="576.65" y2="630.80" stroke="#000" stroke-width="1.15"/>
<circle cx="576.65" cy="623.90" r="1.85" fill="#000"/>
<path d="M609.90,626.20 L606.90,626.20 C606.82,625.00 606.55,621.70 606.40,619.00 C606.25,616.30 606.07,613.67 606.00,610.00 C605.93,606.33 605.93,601.33 606.00,597.00 C606.07,592.67 606.18,588.33 606.40,584.00 C606.62,579.67 607.00,575.33 607.30,571.00 C607.60,566.67 607.98,562.33 608.20,558.00 C608.42,553.67 608.47,551.43 608.60,545.00 C608.73,538.57 608.83,528.65 609.00,519.40 C609.17,510.15 609.50,494.48 609.60,489.50 L609.90,489.50 Z" fill="#F7934C"/>
<path d="M609.90,643.70 L609.90,643.70 C610.00,642.42 610.18,639.03 610.50,636.00 C610.82,632.97 611.25,628.77 611.80,625.50 C612.35,622.23 613.15,619.42 613.80,616.40 C614.45,613.38 615.27,609.98 615.70,607.40 C616.13,604.82 616.35,603.07 616.40,600.90 C616.45,598.73 616.37,597.22 616.00,594.40 C615.63,591.58 614.93,587.90 614.20,584.00 C613.47,580.10 612.22,575.33 611.60,571.00 C610.98,566.67 610.70,561.80 610.50,558.00 C610.30,554.20 610.42,549.83 610.40,548.20 L609.90,548.20 Z" fill="#8DD3EE"/>
<line x1="606.20" y1="565.80" x2="606.20" y2="606.70" stroke="#000" stroke-width="1.15"/>
<circle cx="606.20" cy="589.40" r="1.85" fill="#000"/>
<line x1="613.60" y1="587.20" x2="613.60" y2="612.50" stroke="#000" stroke-width="1.15"/>
<circle cx="613.60" cy="599.60" r="1.85" fill="#000"/>
<line x1="514.20" y1="481.60" x2="514.20" y2="655.40" stroke="#767676" stroke-width="1.45"/>
<line x1="631.80" y1="481.60" x2="631.80" y2="655.40" stroke="#767676" stroke-width="1.45"/>
<line x1="513.40" y1="655.40" x2="632.60" y2="655.40" stroke="#555" stroke-width="1.6"/>
<line x1="514.20" y1="455.40" x2="514.20" y2="481.60" stroke="#767676" stroke-width="1.45"/>
<line x1="631.80" y1="455.40" x2="631.80" y2="481.60" stroke="#767676" stroke-width="1.45"/>
<line x1="513.40" y1="455.40" x2="632.60" y2="455.40" stroke="#666" stroke-width="1.3"/>
<line x1="513.40" y1="481.60" x2="632.60" y2="481.60" stroke="#3d3d3d" stroke-width="1.6"/>
<text class="st" transform="translate(573.00,473.60) scale(1,1.09)" text-anchor="middle">WM network 14</text>
<line x1="509.20" y1="501.90" x2="514.20" y2="501.90" stroke="#1a1a1a" stroke-width="1.35"/>
<text class="tk" transform="translate(505.80,506.50) scale(1,1.14)" text-anchor="end">0.3</text>
<line x1="509.20" y1="551.10" x2="514.20" y2="551.10" stroke="#1a1a1a" stroke-width="1.35"/>
<text class="tk" transform="translate(505.80,555.70) scale(1,1.14)" text-anchor="end">0.2</text>
<line x1="509.20" y1="600.50" x2="514.20" y2="600.50" stroke="#1a1a1a" stroke-width="1.35"/>
<text class="tk" transform="translate(505.80,605.10) scale(1,1.14)" text-anchor="end">0.1</text>
<line x1="509.20" y1="650.70" x2="514.20" y2="650.70" stroke="#1a1a1a" stroke-width="1.35"/>
<text class="tk" transform="translate(505.80,655.30) scale(1,1.14)" text-anchor="end">0.0</text>
<line x1="536.00" y1="655.40" x2="536.00" y2="660.20" stroke="#1a1a1a" stroke-width="1.35"/>
<text class="xl" transform="translate(536.00,671.60) scale(1,1.12)" text-anchor="middle">Band A</text>
<line x1="572.95" y1="655.40" x2="572.95" y2="660.20" stroke="#1a1a1a" stroke-width="1.35"/>
<text class="xl" transform="translate(572.95,671.60) scale(1,1.12)" text-anchor="middle">Band B</text>
<line x1="609.90" y1="655.40" x2="609.90" y2="660.20" stroke="#1a1a1a" stroke-width="1.35"/>
<text class="xl" transform="translate(609.90,671.60) scale(1,1.12)" text-anchor="middle">Band C</text>
<text class="ttl" x="418.3" y="692" text-anchor="middle" style="font-size:21.5px">Band</text>
<text class="ttl" transform="translate(15.4,336.9) rotate(-90)" text-anchor="middle" style="font-size:22px">Amplitude (f)</text>
<text class="lg" x="671.5" y="543.6" style="font-size:15.7px;font-weight:bold">Group</text>
<rect x="671.2" y="560.3" width="22" height="22" fill="#F7934C"/>
<circle cx="682.2" cy="571.3" r="1.85" fill="#000"/>
<rect x="671.2" y="593.3" width="22" height="22" fill="#8DD3EE"/>
<circle cx="682.2" cy="604.3" r="1.85" fill="#000"/>
<text class="lg" transform="translate(701.2,580.6) scale(1,1.06)" style="font-size:17.2px">HCs</text>
<text class="lg" transform="translate(701.2,610.3) scale(1,1.06)" style="font-size:17.4px">SVCI</text>
</svg></body></html>
